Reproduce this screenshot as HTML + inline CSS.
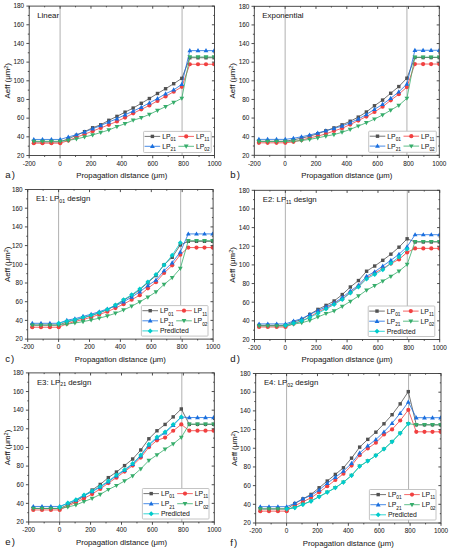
<!DOCTYPE html>
<html><head><meta charset="utf-8"><style>html,body{margin:0;padding:0;background:#fff;width:450px;height:550px;overflow:hidden}svg{display:block}text{stroke:#222;stroke-width:0.05px}</style></head><body>
<svg width="450" height="550" viewBox="0 0 450 550" font-family='"Liberation Sans", sans-serif' fill="#222">
<rect x="0" y="0" width="450" height="550" fill="#fff"/>
<line x1="60.08" y1="6.1" x2="60.08" y2="155.5" stroke="#a8a8a8" stroke-width="0.9"/>
<line x1="182.07" y1="6.1" x2="182.07" y2="155.5" stroke="#a8a8a8" stroke-width="0.9"/>
<clipPath id="cpa"><rect x="29.2" y="-3.9" width="185.3" height="159.4"/></clipPath><g clip-path="url(#cpa)">
<path d="M33.8 141.96 L42.5 141.96 L51.4 141.96 L60.2 141.96 L68.31 138.69 L76.41 135.33 L84.52 131.69 L92.63 127.77 L100.73 124.78 L108.84 120.3 L116.95 116.38 L125.06 112.17 L133.16 108.07 L141.27 103.3 L149.38 98.54 L157.48 93.5 L165.59 88.74 L173.7 83.69 L181.81 78.37 L189.8 57.74 L198 57.74 L206 57.74 L214.1 57.74" fill="none" stroke="#515151" stroke-width="0.8"/>
<rect x="32.1" y="140.26" width="3.4" height="3.4" fill="#515151"/>
<rect x="40.8" y="140.26" width="3.4" height="3.4" fill="#515151"/>
<rect x="49.7" y="140.26" width="3.4" height="3.4" fill="#515151"/>
<rect x="58.5" y="140.26" width="3.4" height="3.4" fill="#515151"/>
<rect x="66.61" y="136.99" width="3.4" height="3.4" fill="#515151"/>
<rect x="74.71" y="133.63" width="3.4" height="3.4" fill="#515151"/>
<rect x="82.82" y="129.99" width="3.4" height="3.4" fill="#515151"/>
<rect x="90.93" y="126.07" width="3.4" height="3.4" fill="#515151"/>
<rect x="99.03" y="123.08" width="3.4" height="3.4" fill="#515151"/>
<rect x="107.14" y="118.6" width="3.4" height="3.4" fill="#515151"/>
<rect x="115.25" y="114.68" width="3.4" height="3.4" fill="#515151"/>
<rect x="123.36" y="110.47" width="3.4" height="3.4" fill="#515151"/>
<rect x="131.46" y="106.37" width="3.4" height="3.4" fill="#515151"/>
<rect x="139.57" y="101.6" width="3.4" height="3.4" fill="#515151"/>
<rect x="147.68" y="96.84" width="3.4" height="3.4" fill="#515151"/>
<rect x="155.78" y="91.8" width="3.4" height="3.4" fill="#515151"/>
<rect x="163.89" y="87.04" width="3.4" height="3.4" fill="#515151"/>
<rect x="172" y="81.99" width="3.4" height="3.4" fill="#515151"/>
<rect x="180.11" y="76.67" width="3.4" height="3.4" fill="#515151"/>
<rect x="188.1" y="56.04" width="3.4" height="3.4" fill="#515151"/>
<rect x="196.3" y="56.04" width="3.4" height="3.4" fill="#515151"/>
<rect x="204.3" y="56.04" width="3.4" height="3.4" fill="#515151"/>
<rect x="212.4" y="56.04" width="3.4" height="3.4" fill="#515151"/>
<path d="M33.8 143.17 L42.5 143.17 L51.4 143.17 L60.2 143.17 L68.31 140.56 L76.41 137.29 L84.52 134.21 L92.63 131.13 L100.73 127.95 L108.84 124.78 L116.95 121.42 L125.06 117.59 L133.16 113.29 L141.27 109.37 L149.38 105.45 L157.48 100.88 L165.59 96.39 L173.7 91.72 L181.81 86.87 L189.8 64.27 L198 64.27 L206 64.27 L214.1 64.27" fill="none" stroke="#F14040" stroke-width="0.8"/>
<circle cx="33.8" cy="143.17" r="2.1" fill="#F14040"/>
<circle cx="42.5" cy="143.17" r="2.1" fill="#F14040"/>
<circle cx="51.4" cy="143.17" r="2.1" fill="#F14040"/>
<circle cx="60.2" cy="143.17" r="2.1" fill="#F14040"/>
<circle cx="68.31" cy="140.56" r="2.1" fill="#F14040"/>
<circle cx="76.41" cy="137.29" r="2.1" fill="#F14040"/>
<circle cx="84.52" cy="134.21" r="2.1" fill="#F14040"/>
<circle cx="92.63" cy="131.13" r="2.1" fill="#F14040"/>
<circle cx="100.73" cy="127.95" r="2.1" fill="#F14040"/>
<circle cx="108.84" cy="124.78" r="2.1" fill="#F14040"/>
<circle cx="116.95" cy="121.42" r="2.1" fill="#F14040"/>
<circle cx="125.06" cy="117.59" r="2.1" fill="#F14040"/>
<circle cx="133.16" cy="113.29" r="2.1" fill="#F14040"/>
<circle cx="141.27" cy="109.37" r="2.1" fill="#F14040"/>
<circle cx="149.38" cy="105.45" r="2.1" fill="#F14040"/>
<circle cx="157.48" cy="100.88" r="2.1" fill="#F14040"/>
<circle cx="165.59" cy="96.39" r="2.1" fill="#F14040"/>
<circle cx="173.7" cy="91.72" r="2.1" fill="#F14040"/>
<circle cx="181.81" cy="86.87" r="2.1" fill="#F14040"/>
<circle cx="189.8" cy="64.27" r="2.1" fill="#F14040"/>
<circle cx="198" cy="64.27" r="2.1" fill="#F14040"/>
<circle cx="206" cy="64.27" r="2.1" fill="#F14040"/>
<circle cx="214.1" cy="64.27" r="2.1" fill="#F14040"/>
<path d="M33.8 139.44 L42.5 139.44 L51.4 139.44 L60.2 139.44 L68.31 137.01 L76.41 134.68 L84.52 131.97 L92.63 128.79 L100.73 125.53 L108.84 121.98 L116.95 118.71 L125.06 114.79 L133.16 111.15 L141.27 107.23 L149.38 102.93 L157.48 98.54 L165.59 93.78 L173.7 89.86 L181.81 84.35 L189.8 50.64 L198 50.64 L206 50.64 L214.1 50.64" fill="none" stroke="#1A6FDF" stroke-width="0.8"/>
<path d="M33.8 136.92L36.2 141.12L31.4 141.12Z" fill="#1A6FDF"/>
<path d="M42.5 136.92L44.9 141.12L40.1 141.12Z" fill="#1A6FDF"/>
<path d="M51.4 136.92L53.8 141.12L49 141.12Z" fill="#1A6FDF"/>
<path d="M60.2 136.92L62.6 141.12L57.8 141.12Z" fill="#1A6FDF"/>
<path d="M68.31 134.49L70.71 138.69L65.91 138.69Z" fill="#1A6FDF"/>
<path d="M76.41 132.16L78.81 136.36L74.01 136.36Z" fill="#1A6FDF"/>
<path d="M84.52 129.45L86.92 133.65L82.12 133.65Z" fill="#1A6FDF"/>
<path d="M92.63 126.27L95.03 130.47L90.23 130.47Z" fill="#1A6FDF"/>
<path d="M100.73 123.01L103.14 127.21L98.33 127.21Z" fill="#1A6FDF"/>
<path d="M108.84 119.46L111.24 123.66L106.44 123.66Z" fill="#1A6FDF"/>
<path d="M116.95 116.19L119.35 120.39L114.55 120.39Z" fill="#1A6FDF"/>
<path d="M125.06 112.27L127.46 116.47L122.66 116.47Z" fill="#1A6FDF"/>
<path d="M133.16 108.63L135.56 112.83L130.76 112.83Z" fill="#1A6FDF"/>
<path d="M141.27 104.71L143.67 108.91L138.87 108.91Z" fill="#1A6FDF"/>
<path d="M149.38 100.41L151.78 104.61L146.98 104.61Z" fill="#1A6FDF"/>
<path d="M157.48 96.02L159.88 100.22L155.08 100.22Z" fill="#1A6FDF"/>
<path d="M165.59 91.26L167.99 95.46L163.19 95.46Z" fill="#1A6FDF"/>
<path d="M173.7 87.34L176.1 91.54L171.3 91.54Z" fill="#1A6FDF"/>
<path d="M181.81 81.83L184.21 86.03L179.41 86.03Z" fill="#1A6FDF"/>
<path d="M189.8 48.12L192.2 52.32L187.4 52.32Z" fill="#1A6FDF"/>
<path d="M198 48.12L200.4 52.32L195.6 52.32Z" fill="#1A6FDF"/>
<path d="M206 48.12L208.4 52.32L203.6 52.32Z" fill="#1A6FDF"/>
<path d="M214.1 48.12L216.5 52.32L211.7 52.32Z" fill="#1A6FDF"/>
<path d="M33.8 141.31 L42.5 141.31 L51.4 141.31 L60.2 141.31 L68.31 140.37 L76.41 138.97 L84.52 137.01 L92.63 134.96 L100.73 132.53 L108.84 130.01 L116.95 126.65 L125.06 123.66 L133.16 120.3 L141.27 117.78 L149.38 114.41 L157.48 110.49 L165.59 106.66 L173.7 102.46 L181.81 98.35 L189.8 56.99 L198 56.99 L206 56.99 L214.1 56.99" fill="none" stroke="#37AD6B" stroke-width="0.8"/>
<path d="M33.8 143.83L36.2 139.63L31.4 139.63Z" fill="#37AD6B"/>
<path d="M42.5 143.83L44.9 139.63L40.1 139.63Z" fill="#37AD6B"/>
<path d="M51.4 143.83L53.8 139.63L49 139.63Z" fill="#37AD6B"/>
<path d="M60.2 143.83L62.6 139.63L57.8 139.63Z" fill="#37AD6B"/>
<path d="M68.31 142.89L70.71 138.69L65.91 138.69Z" fill="#37AD6B"/>
<path d="M76.41 141.49L78.81 137.29L74.01 137.29Z" fill="#37AD6B"/>
<path d="M84.52 139.53L86.92 135.33L82.12 135.33Z" fill="#37AD6B"/>
<path d="M92.63 137.48L95.03 133.28L90.23 133.28Z" fill="#37AD6B"/>
<path d="M100.73 135.05L103.14 130.85L98.33 130.85Z" fill="#37AD6B"/>
<path d="M108.84 132.53L111.24 128.33L106.44 128.33Z" fill="#37AD6B"/>
<path d="M116.95 129.17L119.35 124.97L114.55 124.97Z" fill="#37AD6B"/>
<path d="M125.06 126.18L127.46 121.98L122.66 121.98Z" fill="#37AD6B"/>
<path d="M133.16 122.82L135.56 118.62L130.76 118.62Z" fill="#37AD6B"/>
<path d="M141.27 120.3L143.67 116.1L138.87 116.1Z" fill="#37AD6B"/>
<path d="M149.38 116.93L151.78 112.73L146.98 112.73Z" fill="#37AD6B"/>
<path d="M157.48 113.01L159.88 108.81L155.08 108.81Z" fill="#37AD6B"/>
<path d="M165.59 109.18L167.99 104.98L163.19 104.98Z" fill="#37AD6B"/>
<path d="M173.7 104.98L176.1 100.78L171.3 100.78Z" fill="#37AD6B"/>
<path d="M181.81 100.87L184.21 96.67L179.41 96.67Z" fill="#37AD6B"/>
<path d="M189.8 59.51L192.2 55.31L187.4 55.31Z" fill="#37AD6B"/>
<path d="M198 59.51L200.4 55.31L195.6 55.31Z" fill="#37AD6B"/>
<path d="M206 59.51L208.4 55.31L203.6 55.31Z" fill="#37AD6B"/>
<path d="M214.1 59.51L216.5 55.31L211.7 55.31Z" fill="#37AD6B"/>
</g>
<rect x="143.6" y="131.4" width="67.6" height="21.1" rx="0.8" fill="#fff" stroke="#bdbdbd" stroke-width="0.9"/>
<line x1="144.6" y1="136.4" x2="160.2" y2="136.4" stroke="#515151" stroke-width="0.8"/>
<rect x="150.7" y="134.7" width="3.4" height="3.4" fill="#515151"/>
<text x="162.2" y="138.8" font-size="6.8">LP<tspan font-size="4.8" dy="2.4">01</tspan></text>
<line x1="178.4" y1="136.4" x2="194" y2="136.4" stroke="#F14040" stroke-width="0.8"/>
<circle cx="186.2" cy="136.4" r="2.1" fill="#F14040"/>
<text x="196" y="138.8" font-size="6.8">LP<tspan font-size="4.8" dy="2.4">11</tspan></text>
<line x1="144.6" y1="146.3" x2="160.2" y2="146.3" stroke="#1A6FDF" stroke-width="0.8"/>
<path d="M152.4 143.78L154.8 147.98L150 147.98Z" fill="#1A6FDF"/>
<text x="162.2" y="148.7" font-size="6.8">LP<tspan font-size="4.8" dy="2.4">21</tspan></text>
<line x1="178.4" y1="146.3" x2="194" y2="146.3" stroke="#37AD6B" stroke-width="0.8"/>
<path d="M186.2 148.82L188.6 144.62L183.8 144.62Z" fill="#37AD6B"/>
<text x="196" y="148.7" font-size="6.8">LP<tspan font-size="4.8" dy="2.4">02</tspan></text>
<rect x="29.2" y="6.1" width="185.3" height="149.4" fill="none" stroke="#3a3a3a" stroke-width="0.9"/>
<text x="29.2" y="165.7" font-size="6.4" text-anchor="middle">-200</text>
<text x="60.08" y="165.7" font-size="6.4" text-anchor="middle">0</text>
<text x="90.97" y="165.7" font-size="6.4" text-anchor="middle">200</text>
<text x="121.85" y="165.7" font-size="6.4" text-anchor="middle">400</text>
<text x="152.73" y="165.7" font-size="6.4" text-anchor="middle">600</text>
<text x="183.62" y="165.7" font-size="6.4" text-anchor="middle">800</text>
<text x="214.5" y="165.7" font-size="6.4" text-anchor="middle">1000</text>
<text x="24.2" y="157.8" font-size="6.4" text-anchor="end">20</text>
<text x="24.2" y="139.12" font-size="6.4" text-anchor="end">40</text>
<text x="24.2" y="120.45" font-size="6.4" text-anchor="end">60</text>
<text x="24.2" y="101.77" font-size="6.4" text-anchor="end">80</text>
<text x="24.2" y="83.1" font-size="6.4" text-anchor="end">100</text>
<text x="24.2" y="64.42" font-size="6.4" text-anchor="end">120</text>
<text x="24.2" y="45.75" font-size="6.4" text-anchor="end">140</text>
<text x="24.2" y="27.08" font-size="6.4" text-anchor="end">160</text>
<text x="24.2" y="8.4" font-size="6.4" text-anchor="end">180</text>
<path d="M29.2 155.5V158.3M29.2 6.1V8.7M44.64 155.5V156.9M44.64 6.1V7.3M60.08 155.5V158.3M60.08 6.1V8.7M75.53 155.5V156.9M75.53 6.1V7.3M90.97 155.5V158.3M90.97 6.1V8.7M106.41 155.5V156.9M106.41 6.1V7.3M121.85 155.5V158.3M121.85 6.1V8.7M137.29 155.5V156.9M137.29 6.1V7.3M152.73 155.5V158.3M152.73 6.1V8.7M168.18 155.5V156.9M168.18 6.1V7.3M183.62 155.5V158.3M183.62 6.1V8.7M199.06 155.5V156.9M199.06 6.1V7.3M214.5 155.5V158.3M214.5 6.1V8.7M29.2 155.5H26.4M214.5 155.5H211.9M29.2 146.16H27.8M214.5 146.16H213.3M29.2 136.82H26.4M214.5 136.82H211.9M29.2 127.49H27.8M214.5 127.49H213.3M29.2 118.15H26.4M214.5 118.15H211.9M29.2 108.81H27.8M214.5 108.81H213.3M29.2 99.47H26.4M214.5 99.47H211.9M29.2 90.14H27.8M214.5 90.14H213.3M29.2 80.8H26.4M214.5 80.8H211.9M29.2 71.46H27.8M214.5 71.46H213.3M29.2 62.12H26.4M214.5 62.12H211.9M29.2 52.79H27.8M214.5 52.79H213.3M29.2 43.45H26.4M214.5 43.45H211.9M29.2 34.11H27.8M214.5 34.11H213.3M29.2 24.78H26.4M214.5 24.78H211.9M29.2 15.44H27.8M214.5 15.44H213.3M29.2 6.1H26.4M214.5 6.1H211.9" stroke="#3a3a3a" stroke-width="0.9" fill="none"/>
<text x="37.2" y="18" font-size="7.9">Linear</text>
<text x="121.85" y="178" font-size="7.75" text-anchor="middle">Propagation distance (μm)</text>
<text transform="translate(9.8 80.8) rotate(-90)" font-size="7.9" text-anchor="middle">Aeff (μm<tspan font-size="5.5" dy="-2">2</tspan><tspan dy="2">)</tspan></text>
<text x="5.2" y="178.1" font-size="9.6">a<tspan dx="1.1">)</tspan></text>
<line x1="285.13" y1="6.3" x2="285.13" y2="155.3" stroke="#a8a8a8" stroke-width="0.9"/>
<line x1="406.93" y1="6.3" x2="406.93" y2="155.3" stroke="#a8a8a8" stroke-width="0.9"/>
<clipPath id="cpb"><rect x="254.3" y="-3.7" width="185" height="159"/></clipPath><g clip-path="url(#cpb)">
<path d="M258.9 141.24 L267.6 141.24 L276.5 141.24 L285.3 141.24 L293.41 139.84 L301.51 138.17 L309.62 136.21 L317.73 133.69 L325.84 130.81 L333.94 127.92 L342.05 124.85 L350.16 121.22 L358.26 117.12 L366.37 112 L374.48 105.76 L382.58 100.08 L390.69 93.28 L398.8 86.57 L406.9 78.19 L414.9 57.52 L423.1 57.52 L431.1 57.52 L439.2 57.52" fill="none" stroke="#515151" stroke-width="0.8"/>
<rect x="257.2" y="139.54" width="3.4" height="3.4" fill="#515151"/>
<rect x="265.9" y="139.54" width="3.4" height="3.4" fill="#515151"/>
<rect x="274.8" y="139.54" width="3.4" height="3.4" fill="#515151"/>
<rect x="283.6" y="139.54" width="3.4" height="3.4" fill="#515151"/>
<rect x="291.71" y="138.14" width="3.4" height="3.4" fill="#515151"/>
<rect x="299.81" y="136.47" width="3.4" height="3.4" fill="#515151"/>
<rect x="307.92" y="134.51" width="3.4" height="3.4" fill="#515151"/>
<rect x="316.03" y="132" width="3.4" height="3.4" fill="#515151"/>
<rect x="324.14" y="129.11" width="3.4" height="3.4" fill="#515151"/>
<rect x="332.24" y="126.22" width="3.4" height="3.4" fill="#515151"/>
<rect x="340.35" y="123.15" width="3.4" height="3.4" fill="#515151"/>
<rect x="348.46" y="119.52" width="3.4" height="3.4" fill="#515151"/>
<rect x="356.56" y="115.42" width="3.4" height="3.4" fill="#515151"/>
<rect x="364.67" y="110.3" width="3.4" height="3.4" fill="#515151"/>
<rect x="372.78" y="104.06" width="3.4" height="3.4" fill="#515151"/>
<rect x="380.88" y="98.38" width="3.4" height="3.4" fill="#515151"/>
<rect x="388.99" y="91.58" width="3.4" height="3.4" fill="#515151"/>
<rect x="397.1" y="84.87" width="3.4" height="3.4" fill="#515151"/>
<rect x="405.2" y="76.49" width="3.4" height="3.4" fill="#515151"/>
<rect x="413.2" y="55.82" width="3.4" height="3.4" fill="#515151"/>
<rect x="421.4" y="55.82" width="3.4" height="3.4" fill="#515151"/>
<rect x="429.4" y="55.82" width="3.4" height="3.4" fill="#515151"/>
<rect x="437.5" y="55.82" width="3.4" height="3.4" fill="#515151"/>
<path d="M258.9 142.82 L267.6 142.82 L276.5 142.82 L285.3 142.82 L293.41 141.8 L301.51 140.12 L309.62 137.89 L317.73 136.12 L325.84 133.88 L333.94 130.99 L342.05 128.29 L350.16 124.57 L358.26 120.56 L366.37 116.56 L374.48 112 L382.58 106.69 L390.69 100.36 L398.8 94.21 L406.9 87.04 L414.9 64.04 L423.1 64.04 L431.1 64.04 L439.2 64.04" fill="none" stroke="#F14040" stroke-width="0.8"/>
<circle cx="258.9" cy="142.82" r="2.1" fill="#F14040"/>
<circle cx="267.6" cy="142.82" r="2.1" fill="#F14040"/>
<circle cx="276.5" cy="142.82" r="2.1" fill="#F14040"/>
<circle cx="285.3" cy="142.82" r="2.1" fill="#F14040"/>
<circle cx="293.41" cy="141.8" r="2.1" fill="#F14040"/>
<circle cx="301.51" cy="140.12" r="2.1" fill="#F14040"/>
<circle cx="309.62" cy="137.89" r="2.1" fill="#F14040"/>
<circle cx="317.73" cy="136.12" r="2.1" fill="#F14040"/>
<circle cx="325.84" cy="133.88" r="2.1" fill="#F14040"/>
<circle cx="333.94" cy="130.99" r="2.1" fill="#F14040"/>
<circle cx="342.05" cy="128.29" r="2.1" fill="#F14040"/>
<circle cx="350.16" cy="124.57" r="2.1" fill="#F14040"/>
<circle cx="358.26" cy="120.56" r="2.1" fill="#F14040"/>
<circle cx="366.37" cy="116.56" r="2.1" fill="#F14040"/>
<circle cx="374.48" cy="112" r="2.1" fill="#F14040"/>
<circle cx="382.58" cy="106.69" r="2.1" fill="#F14040"/>
<circle cx="390.69" cy="100.36" r="2.1" fill="#F14040"/>
<circle cx="398.8" cy="94.21" r="2.1" fill="#F14040"/>
<circle cx="406.9" cy="87.04" r="2.1" fill="#F14040"/>
<circle cx="414.9" cy="64.04" r="2.1" fill="#F14040"/>
<circle cx="423.1" cy="64.04" r="2.1" fill="#F14040"/>
<circle cx="431.1" cy="64.04" r="2.1" fill="#F14040"/>
<circle cx="439.2" cy="64.04" r="2.1" fill="#F14040"/>
<path d="M258.9 139.38 L267.6 139.38 L276.5 139.38 L285.3 139.38 L293.41 138.26 L301.51 136.77 L309.62 135 L317.73 132.95 L325.84 130.81 L333.94 128.48 L342.05 125.97 L350.16 122.8 L358.26 119.07 L366.37 114.51 L374.48 109.3 L382.58 104.36 L390.69 98.31 L398.8 91.88 L406.9 84.06 L414.9 50.25 L423.1 50.25 L431.1 50.25 L439.2 50.25" fill="none" stroke="#1A6FDF" stroke-width="0.8"/>
<path d="M258.9 136.86L261.3 141.06L256.5 141.06Z" fill="#1A6FDF"/>
<path d="M267.6 136.86L270 141.06L265.2 141.06Z" fill="#1A6FDF"/>
<path d="M276.5 136.86L278.9 141.06L274.1 141.06Z" fill="#1A6FDF"/>
<path d="M285.3 136.86L287.7 141.06L282.9 141.06Z" fill="#1A6FDF"/>
<path d="M293.41 135.74L295.81 139.94L291.01 139.94Z" fill="#1A6FDF"/>
<path d="M301.51 134.25L303.91 138.45L299.11 138.45Z" fill="#1A6FDF"/>
<path d="M309.62 132.48L312.02 136.68L307.22 136.68Z" fill="#1A6FDF"/>
<path d="M317.73 130.43L320.13 134.63L315.33 134.63Z" fill="#1A6FDF"/>
<path d="M325.84 128.29L328.24 132.49L323.44 132.49Z" fill="#1A6FDF"/>
<path d="M333.94 125.96L336.34 130.16L331.54 130.16Z" fill="#1A6FDF"/>
<path d="M342.05 123.45L344.45 127.65L339.65 127.65Z" fill="#1A6FDF"/>
<path d="M350.16 120.28L352.56 124.48L347.76 124.48Z" fill="#1A6FDF"/>
<path d="M358.26 116.55L360.66 120.75L355.86 120.75Z" fill="#1A6FDF"/>
<path d="M366.37 111.99L368.77 116.19L363.97 116.19Z" fill="#1A6FDF"/>
<path d="M374.48 106.78L376.88 110.98L372.08 110.98Z" fill="#1A6FDF"/>
<path d="M382.58 101.84L384.98 106.04L380.18 106.04Z" fill="#1A6FDF"/>
<path d="M390.69 95.79L393.09 99.99L388.29 99.99Z" fill="#1A6FDF"/>
<path d="M398.8 89.36L401.2 93.56L396.4 93.56Z" fill="#1A6FDF"/>
<path d="M406.9 81.54L409.3 85.74L404.5 85.74Z" fill="#1A6FDF"/>
<path d="M414.9 47.73L417.3 51.93L412.5 51.93Z" fill="#1A6FDF"/>
<path d="M423.1 47.73L425.5 51.93L420.7 51.93Z" fill="#1A6FDF"/>
<path d="M431.1 47.73L433.5 51.93L428.7 51.93Z" fill="#1A6FDF"/>
<path d="M439.2 47.73L441.6 51.93L436.8 51.93Z" fill="#1A6FDF"/>
<path d="M258.9 141.52 L267.6 141.52 L276.5 141.52 L285.3 141.52 L293.41 141.24 L301.51 140.59 L309.62 139.38 L317.73 137.89 L325.84 136.12 L333.94 134.63 L342.05 132.3 L350.16 129.41 L358.26 126.06 L366.37 122.8 L374.48 119.07 L382.58 114.98 L390.69 110.23 L398.8 105.39 L406.9 98.31 L414.9 57.15 L423.1 57.15 L431.1 57.15 L439.2 57.15" fill="none" stroke="#37AD6B" stroke-width="0.8"/>
<path d="M258.9 144.04L261.3 139.84L256.5 139.84Z" fill="#37AD6B"/>
<path d="M267.6 144.04L270 139.84L265.2 139.84Z" fill="#37AD6B"/>
<path d="M276.5 144.04L278.9 139.84L274.1 139.84Z" fill="#37AD6B"/>
<path d="M285.3 144.04L287.7 139.84L282.9 139.84Z" fill="#37AD6B"/>
<path d="M293.41 143.76L295.81 139.56L291.01 139.56Z" fill="#37AD6B"/>
<path d="M301.51 143.11L303.91 138.91L299.11 138.91Z" fill="#37AD6B"/>
<path d="M309.62 141.9L312.02 137.7L307.22 137.7Z" fill="#37AD6B"/>
<path d="M317.73 140.41L320.13 136.21L315.33 136.21Z" fill="#37AD6B"/>
<path d="M325.84 138.64L328.24 134.44L323.44 134.44Z" fill="#37AD6B"/>
<path d="M333.94 137.15L336.34 132.95L331.54 132.95Z" fill="#37AD6B"/>
<path d="M342.05 134.82L344.45 130.62L339.65 130.62Z" fill="#37AD6B"/>
<path d="M350.16 131.93L352.56 127.73L347.76 127.73Z" fill="#37AD6B"/>
<path d="M358.26 128.58L360.66 124.38L355.86 124.38Z" fill="#37AD6B"/>
<path d="M366.37 125.32L368.77 121.12L363.97 121.12Z" fill="#37AD6B"/>
<path d="M374.48 121.59L376.88 117.39L372.08 117.39Z" fill="#37AD6B"/>
<path d="M382.58 117.5L384.98 113.3L380.18 113.3Z" fill="#37AD6B"/>
<path d="M390.69 112.75L393.09 108.55L388.29 108.55Z" fill="#37AD6B"/>
<path d="M398.8 107.91L401.2 103.71L396.4 103.71Z" fill="#37AD6B"/>
<path d="M406.9 100.83L409.3 96.63L404.5 96.63Z" fill="#37AD6B"/>
<path d="M414.9 59.67L417.3 55.47L412.5 55.47Z" fill="#37AD6B"/>
<path d="M423.1 59.67L425.5 55.47L420.7 55.47Z" fill="#37AD6B"/>
<path d="M431.1 59.67L433.5 55.47L428.7 55.47Z" fill="#37AD6B"/>
<path d="M439.2 59.67L441.6 55.47L436.8 55.47Z" fill="#37AD6B"/>
</g>
<rect x="368.7" y="131.2" width="67.6" height="21.1" rx="0.8" fill="#fff" stroke="#bdbdbd" stroke-width="0.9"/>
<line x1="369.7" y1="136.2" x2="385.3" y2="136.2" stroke="#515151" stroke-width="0.8"/>
<rect x="375.8" y="134.5" width="3.4" height="3.4" fill="#515151"/>
<text x="387.3" y="138.6" font-size="6.8">LP<tspan font-size="4.8" dy="2.4">01</tspan></text>
<line x1="403.5" y1="136.2" x2="419.1" y2="136.2" stroke="#F14040" stroke-width="0.8"/>
<circle cx="411.3" cy="136.2" r="2.1" fill="#F14040"/>
<text x="421.1" y="138.6" font-size="6.8">LP<tspan font-size="4.8" dy="2.4">11</tspan></text>
<line x1="369.7" y1="146.1" x2="385.3" y2="146.1" stroke="#1A6FDF" stroke-width="0.8"/>
<path d="M377.5 143.58L379.9 147.78L375.1 147.78Z" fill="#1A6FDF"/>
<text x="387.3" y="148.5" font-size="6.8">LP<tspan font-size="4.8" dy="2.4">21</tspan></text>
<line x1="403.5" y1="146.1" x2="419.1" y2="146.1" stroke="#37AD6B" stroke-width="0.8"/>
<path d="M411.3 148.62L413.7 144.42L408.9 144.42Z" fill="#37AD6B"/>
<text x="421.1" y="148.5" font-size="6.8">LP<tspan font-size="4.8" dy="2.4">02</tspan></text>
<rect x="254.3" y="6.3" width="185" height="149" fill="none" stroke="#3a3a3a" stroke-width="0.9"/>
<text x="254.3" y="165.5" font-size="6.4" text-anchor="middle">-200</text>
<text x="285.13" y="165.5" font-size="6.4" text-anchor="middle">0</text>
<text x="315.97" y="165.5" font-size="6.4" text-anchor="middle">200</text>
<text x="346.8" y="165.5" font-size="6.4" text-anchor="middle">400</text>
<text x="377.63" y="165.5" font-size="6.4" text-anchor="middle">600</text>
<text x="408.47" y="165.5" font-size="6.4" text-anchor="middle">800</text>
<text x="439.3" y="165.5" font-size="6.4" text-anchor="middle">1000</text>
<text x="249.3" y="157.6" font-size="6.4" text-anchor="end">20</text>
<text x="249.3" y="138.98" font-size="6.4" text-anchor="end">40</text>
<text x="249.3" y="120.35" font-size="6.4" text-anchor="end">60</text>
<text x="249.3" y="101.73" font-size="6.4" text-anchor="end">80</text>
<text x="249.3" y="83.1" font-size="6.4" text-anchor="end">100</text>
<text x="249.3" y="64.48" font-size="6.4" text-anchor="end">120</text>
<text x="249.3" y="45.85" font-size="6.4" text-anchor="end">140</text>
<text x="249.3" y="27.23" font-size="6.4" text-anchor="end">160</text>
<text x="249.3" y="8.6" font-size="6.4" text-anchor="end">180</text>
<path d="M254.3 155.3V158.1M254.3 6.3V8.9M269.72 155.3V156.7M269.72 6.3V7.5M285.13 155.3V158.1M285.13 6.3V8.9M300.55 155.3V156.7M300.55 6.3V7.5M315.97 155.3V158.1M315.97 6.3V8.9M331.38 155.3V156.7M331.38 6.3V7.5M346.8 155.3V158.1M346.8 6.3V8.9M362.22 155.3V156.7M362.22 6.3V7.5M377.63 155.3V158.1M377.63 6.3V8.9M393.05 155.3V156.7M393.05 6.3V7.5M408.47 155.3V158.1M408.47 6.3V8.9M423.88 155.3V156.7M423.88 6.3V7.5M439.3 155.3V158.1M439.3 6.3V8.9M254.3 155.3H251.5M439.3 155.3H436.7M254.3 145.99H252.9M439.3 145.99H438.1M254.3 136.68H251.5M439.3 136.68H436.7M254.3 127.36H252.9M439.3 127.36H438.1M254.3 118.05H251.5M439.3 118.05H436.7M254.3 108.74H252.9M439.3 108.74H438.1M254.3 99.43H251.5M439.3 99.43H436.7M254.3 90.11H252.9M439.3 90.11H438.1M254.3 80.8H251.5M439.3 80.8H436.7M254.3 71.49H252.9M439.3 71.49H438.1M254.3 62.18H251.5M439.3 62.18H436.7M254.3 52.86H252.9M439.3 52.86H438.1M254.3 43.55H251.5M439.3 43.55H436.7M254.3 34.24H252.9M439.3 34.24H438.1M254.3 24.93H251.5M439.3 24.93H436.7M254.3 15.61H252.9M439.3 15.61H438.1M254.3 6.3H251.5M439.3 6.3H436.7" stroke="#3a3a3a" stroke-width="0.9" fill="none"/>
<text x="262.3" y="18.2" font-size="7.9">Exponential</text>
<text x="346.8" y="177.8" font-size="7.75" text-anchor="middle">Propagation distance (μm)</text>
<text transform="translate(235.1 80.8) rotate(-90)" font-size="7.9" text-anchor="middle">Aeff (μm<tspan font-size="5.5" dy="-2">2</tspan><tspan dy="2">)</tspan></text>
<text x="230.2" y="177.9" font-size="9.6">b<tspan dx="1.1">)</tspan></text>
<line x1="58.6" y1="189.5" x2="58.6" y2="339.1" stroke="#a8a8a8" stroke-width="0.9"/>
<line x1="180.65" y1="189.5" x2="180.65" y2="339.1" stroke="#a8a8a8" stroke-width="0.9"/>
<clipPath id="cpc"><rect x="27.7" y="179.5" width="185.4" height="159.6"/></clipPath><g clip-path="url(#cpc)">
<path d="M32.3 325.08 L41 325.08 L49.9 325.08 L58.7 325.08 L66.81 321.99 L74.91 320.12 L83.02 317.88 L91.13 315.54 L99.23 312.92 L107.34 309.74 L115.45 305.44 L123.56 300.3 L131.66 295.44 L139.77 289.73 L147.88 282.53 L155.98 275.52 L164.09 264.77 L172.2 257.29 L180.31 244.95 L188.3 241.3 L196.5 241.3 L204.5 241.3 L212.6 241.3" fill="none" stroke="#515151" stroke-width="0.8"/>
<rect x="30.6" y="323.38" width="3.4" height="3.4" fill="#515151"/>
<rect x="39.3" y="323.38" width="3.4" height="3.4" fill="#515151"/>
<rect x="48.2" y="323.38" width="3.4" height="3.4" fill="#515151"/>
<rect x="57" y="323.38" width="3.4" height="3.4" fill="#515151"/>
<rect x="65.11" y="320.29" width="3.4" height="3.4" fill="#515151"/>
<rect x="73.21" y="318.42" width="3.4" height="3.4" fill="#515151"/>
<rect x="81.32" y="316.18" width="3.4" height="3.4" fill="#515151"/>
<rect x="89.43" y="313.84" width="3.4" height="3.4" fill="#515151"/>
<rect x="97.53" y="311.22" width="3.4" height="3.4" fill="#515151"/>
<rect x="105.64" y="308.04" width="3.4" height="3.4" fill="#515151"/>
<rect x="113.75" y="303.74" width="3.4" height="3.4" fill="#515151"/>
<rect x="121.86" y="298.6" width="3.4" height="3.4" fill="#515151"/>
<rect x="129.96" y="293.74" width="3.4" height="3.4" fill="#515151"/>
<rect x="138.07" y="288.03" width="3.4" height="3.4" fill="#515151"/>
<rect x="146.18" y="280.83" width="3.4" height="3.4" fill="#515151"/>
<rect x="154.28" y="273.82" width="3.4" height="3.4" fill="#515151"/>
<rect x="162.39" y="263.07" width="3.4" height="3.4" fill="#515151"/>
<rect x="170.5" y="255.59" width="3.4" height="3.4" fill="#515151"/>
<rect x="178.61" y="243.25" width="3.4" height="3.4" fill="#515151"/>
<rect x="186.6" y="239.6" width="3.4" height="3.4" fill="#515151"/>
<rect x="194.8" y="239.6" width="3.4" height="3.4" fill="#515151"/>
<rect x="202.8" y="239.6" width="3.4" height="3.4" fill="#515151"/>
<rect x="210.9" y="239.6" width="3.4" height="3.4" fill="#515151"/>
<path d="M32.3 327.23 L41 327.23 L49.9 327.23 L58.7 327.23 L66.81 323.86 L74.91 321.52 L83.02 319.47 L91.13 317.22 L99.23 314.42 L107.34 311.7 L115.45 308.06 L123.56 304.13 L131.66 299.74 L139.77 295.16 L147.88 288.33 L155.98 282.16 L164.09 273 L172.2 265.33 L180.31 254.67 L188.3 247.56 L196.5 247.56 L204.5 247.56 L212.6 247.56" fill="none" stroke="#F14040" stroke-width="0.8"/>
<circle cx="32.3" cy="327.23" r="2.1" fill="#F14040"/>
<circle cx="41" cy="327.23" r="2.1" fill="#F14040"/>
<circle cx="49.9" cy="327.23" r="2.1" fill="#F14040"/>
<circle cx="58.7" cy="327.23" r="2.1" fill="#F14040"/>
<circle cx="66.81" cy="323.86" r="2.1" fill="#F14040"/>
<circle cx="74.91" cy="321.52" r="2.1" fill="#F14040"/>
<circle cx="83.02" cy="319.47" r="2.1" fill="#F14040"/>
<circle cx="91.13" cy="317.22" r="2.1" fill="#F14040"/>
<circle cx="99.23" cy="314.42" r="2.1" fill="#F14040"/>
<circle cx="107.34" cy="311.7" r="2.1" fill="#F14040"/>
<circle cx="115.45" cy="308.06" r="2.1" fill="#F14040"/>
<circle cx="123.56" cy="304.13" r="2.1" fill="#F14040"/>
<circle cx="131.66" cy="299.74" r="2.1" fill="#F14040"/>
<circle cx="139.77" cy="295.16" r="2.1" fill="#F14040"/>
<circle cx="147.88" cy="288.33" r="2.1" fill="#F14040"/>
<circle cx="155.98" cy="282.16" r="2.1" fill="#F14040"/>
<circle cx="164.09" cy="273" r="2.1" fill="#F14040"/>
<circle cx="172.2" cy="265.33" r="2.1" fill="#F14040"/>
<circle cx="180.31" cy="254.67" r="2.1" fill="#F14040"/>
<circle cx="188.3" cy="247.56" r="2.1" fill="#F14040"/>
<circle cx="196.5" cy="247.56" r="2.1" fill="#F14040"/>
<circle cx="204.5" cy="247.56" r="2.1" fill="#F14040"/>
<circle cx="212.6" cy="247.56" r="2.1" fill="#F14040"/>
<path d="M32.3 323.3 L41 323.3 L49.9 323.3 L58.7 323.3 L66.81 320.21 L74.91 318.72 L83.02 316.38 L91.13 314.23 L99.23 311.7 L107.34 308.9 L115.45 305.91 L123.56 301.89 L131.66 297.03 L139.77 291.88 L147.88 285.52 L155.98 280.1 L164.09 270.66 L172.2 262.71 L180.31 251.96 L188.3 233.91 L196.5 233.91 L204.5 233.91 L212.6 233.91" fill="none" stroke="#1A6FDF" stroke-width="0.8"/>
<path d="M32.3 320.78L34.7 324.98L29.9 324.98Z" fill="#1A6FDF"/>
<path d="M41 320.78L43.4 324.98L38.6 324.98Z" fill="#1A6FDF"/>
<path d="M49.9 320.78L52.3 324.98L47.5 324.98Z" fill="#1A6FDF"/>
<path d="M58.7 320.78L61.1 324.98L56.3 324.98Z" fill="#1A6FDF"/>
<path d="M66.81 317.69L69.21 321.89L64.41 321.89Z" fill="#1A6FDF"/>
<path d="M74.91 316.2L77.31 320.4L72.51 320.4Z" fill="#1A6FDF"/>
<path d="M83.02 313.86L85.42 318.06L80.62 318.06Z" fill="#1A6FDF"/>
<path d="M91.13 311.71L93.53 315.91L88.73 315.91Z" fill="#1A6FDF"/>
<path d="M99.23 309.18L101.64 313.38L96.83 313.38Z" fill="#1A6FDF"/>
<path d="M107.34 306.38L109.74 310.58L104.94 310.58Z" fill="#1A6FDF"/>
<path d="M115.45 303.39L117.85 307.59L113.05 307.59Z" fill="#1A6FDF"/>
<path d="M123.56 299.37L125.96 303.57L121.16 303.57Z" fill="#1A6FDF"/>
<path d="M131.66 294.51L134.06 298.71L129.26 298.71Z" fill="#1A6FDF"/>
<path d="M139.77 289.36L142.17 293.56L137.37 293.56Z" fill="#1A6FDF"/>
<path d="M147.88 283L150.28 287.2L145.48 287.2Z" fill="#1A6FDF"/>
<path d="M155.98 277.58L158.38 281.78L153.58 281.78Z" fill="#1A6FDF"/>
<path d="M164.09 268.14L166.49 272.34L161.69 272.34Z" fill="#1A6FDF"/>
<path d="M172.2 260.19L174.6 264.39L169.8 264.39Z" fill="#1A6FDF"/>
<path d="M180.31 249.44L182.71 253.64L177.91 253.64Z" fill="#1A6FDF"/>
<path d="M188.3 231.39L190.7 235.59L185.9 235.59Z" fill="#1A6FDF"/>
<path d="M196.5 231.39L198.9 235.59L194.1 235.59Z" fill="#1A6FDF"/>
<path d="M204.5 231.39L206.9 235.59L202.1 235.59Z" fill="#1A6FDF"/>
<path d="M212.6 231.39L215 235.59L210.2 235.59Z" fill="#1A6FDF"/>
<path d="M32.3 325.08 L41 325.08 L49.9 325.08 L58.7 325.08 L66.81 324.14 L74.91 323.02 L83.02 321.62 L91.13 320.03 L99.23 318.16 L107.34 316.01 L115.45 313.29 L123.56 310.02 L131.66 306.19 L139.77 301.89 L147.88 297.12 L155.98 291.98 L164.09 284.4 L172.2 277.76 L180.31 268.41 L188.3 240.74 L196.5 240.74 L204.5 240.74 L212.6 240.74" fill="none" stroke="#37AD6B" stroke-width="0.8"/>
<path d="M32.3 327.6L34.7 323.4L29.9 323.4Z" fill="#37AD6B"/>
<path d="M41 327.6L43.4 323.4L38.6 323.4Z" fill="#37AD6B"/>
<path d="M49.9 327.6L52.3 323.4L47.5 323.4Z" fill="#37AD6B"/>
<path d="M58.7 327.6L61.1 323.4L56.3 323.4Z" fill="#37AD6B"/>
<path d="M66.81 326.66L69.21 322.46L64.41 322.46Z" fill="#37AD6B"/>
<path d="M74.91 325.54L77.31 321.34L72.51 321.34Z" fill="#37AD6B"/>
<path d="M83.02 324.14L85.42 319.94L80.62 319.94Z" fill="#37AD6B"/>
<path d="M91.13 322.55L93.53 318.35L88.73 318.35Z" fill="#37AD6B"/>
<path d="M99.23 320.68L101.64 316.48L96.83 316.48Z" fill="#37AD6B"/>
<path d="M107.34 318.53L109.74 314.33L104.94 314.33Z" fill="#37AD6B"/>
<path d="M115.45 315.81L117.85 311.61L113.05 311.61Z" fill="#37AD6B"/>
<path d="M123.56 312.54L125.96 308.34L121.16 308.34Z" fill="#37AD6B"/>
<path d="M131.66 308.71L134.06 304.51L129.26 304.51Z" fill="#37AD6B"/>
<path d="M139.77 304.41L142.17 300.21L137.37 300.21Z" fill="#37AD6B"/>
<path d="M147.88 299.64L150.28 295.44L145.48 295.44Z" fill="#37AD6B"/>
<path d="M155.98 294.5L158.38 290.3L153.58 290.3Z" fill="#37AD6B"/>
<path d="M164.09 286.92L166.49 282.72L161.69 282.72Z" fill="#37AD6B"/>
<path d="M172.2 280.28L174.6 276.08L169.8 276.08Z" fill="#37AD6B"/>
<path d="M180.31 270.93L182.71 266.73L177.91 266.73Z" fill="#37AD6B"/>
<path d="M188.3 243.26L190.7 239.06L185.9 239.06Z" fill="#37AD6B"/>
<path d="M196.5 243.26L198.9 239.06L194.1 239.06Z" fill="#37AD6B"/>
<path d="M204.5 243.26L206.9 239.06L202.1 239.06Z" fill="#37AD6B"/>
<path d="M212.6 243.26L215 239.06L210.2 239.06Z" fill="#37AD6B"/>
<path d="M58.7 323.3 L66.81 321.15 L74.91 319.84 L83.02 317.6 L91.13 315.35 L99.23 312.73 L107.34 309.46 L115.45 304.97 L123.56 299.74 L131.66 294.78 L139.77 288.89 L147.88 281.88 L155.98 274.59 L164.09 265.05 L172.2 255.23 L180.31 242.8" fill="none" stroke="#00CBCC" stroke-width="0.8"/>
<path d="M58.7 320.8L61.2 323.3L58.7 325.8L56.2 323.3Z" fill="#00CBCC"/>
<path d="M66.81 318.65L69.31 321.15L66.81 323.65L64.31 321.15Z" fill="#00CBCC"/>
<path d="M74.91 317.34L77.41 319.84L74.91 322.34L72.41 319.84Z" fill="#00CBCC"/>
<path d="M83.02 315.1L85.52 317.6L83.02 320.1L80.52 317.6Z" fill="#00CBCC"/>
<path d="M91.13 312.85L93.63 315.35L91.13 317.85L88.63 315.35Z" fill="#00CBCC"/>
<path d="M99.23 310.23L101.73 312.73L99.23 315.23L96.73 312.73Z" fill="#00CBCC"/>
<path d="M107.34 306.96L109.84 309.46L107.34 311.96L104.84 309.46Z" fill="#00CBCC"/>
<path d="M115.45 302.47L117.95 304.97L115.45 307.47L112.95 304.97Z" fill="#00CBCC"/>
<path d="M123.56 297.24L126.06 299.74L123.56 302.24L121.06 299.74Z" fill="#00CBCC"/>
<path d="M131.66 292.28L134.16 294.78L131.66 297.28L129.16 294.78Z" fill="#00CBCC"/>
<path d="M139.77 286.39L142.27 288.89L139.77 291.39L137.27 288.89Z" fill="#00CBCC"/>
<path d="M147.88 279.38L150.38 281.88L147.88 284.38L145.38 281.88Z" fill="#00CBCC"/>
<path d="M155.98 272.09L158.48 274.59L155.98 277.09L153.48 274.59Z" fill="#00CBCC"/>
<path d="M164.09 262.55L166.59 265.05L164.09 267.55L161.59 265.05Z" fill="#00CBCC"/>
<path d="M172.2 252.73L174.7 255.23L172.2 257.73L169.7 255.23Z" fill="#00CBCC"/>
<path d="M180.31 240.3L182.81 242.8L180.31 245.3L177.81 242.8Z" fill="#00CBCC"/>
</g>
<rect x="141.4" y="305.6" width="66.6" height="30.5" rx="0.8" fill="#fff" stroke="#bdbdbd" stroke-width="0.9"/>
<line x1="142.4" y1="310.7" x2="158" y2="310.7" stroke="#515151" stroke-width="0.8"/>
<rect x="148.5" y="309" width="3.4" height="3.4" fill="#515151"/>
<text x="160" y="313.1" font-size="6.8">LP<tspan font-size="4.8" dy="2.4">01</tspan></text>
<line x1="176.2" y1="310.7" x2="191.8" y2="310.7" stroke="#F14040" stroke-width="0.8"/>
<circle cx="184" cy="310.7" r="2.1" fill="#F14040"/>
<text x="193.8" y="313.1" font-size="6.8">LP<tspan font-size="4.8" dy="2.4">11</tspan></text>
<line x1="142.4" y1="320.8" x2="158" y2="320.8" stroke="#1A6FDF" stroke-width="0.8"/>
<path d="M150.2 318.28L152.6 322.48L147.8 322.48Z" fill="#1A6FDF"/>
<text x="160" y="323.2" font-size="6.8">LP<tspan font-size="4.8" dy="2.4">21</tspan></text>
<line x1="176.2" y1="320.8" x2="191.8" y2="320.8" stroke="#37AD6B" stroke-width="0.8"/>
<path d="M184 323.32L186.4 319.12L181.6 319.12Z" fill="#37AD6B"/>
<text x="193.8" y="323.2" font-size="6.8">LP<tspan font-size="4.8" dy="2.4">02</tspan></text>
<line x1="142.4" y1="330.9" x2="158" y2="330.9" stroke="#00CBCC" stroke-width="0.8"/>
<path d="M150.2 328.4L152.7 330.9L150.2 333.4L147.7 330.9Z" fill="#00CBCC"/>
<text x="160" y="333.3" font-size="6.8">Predicted</text>
<rect x="27.7" y="189.5" width="185.4" height="149.6" fill="none" stroke="#3a3a3a" stroke-width="0.9"/>
<text x="27.7" y="349.3" font-size="6.4" text-anchor="middle">-200</text>
<text x="58.6" y="349.3" font-size="6.4" text-anchor="middle">0</text>
<text x="89.5" y="349.3" font-size="6.4" text-anchor="middle">200</text>
<text x="120.4" y="349.3" font-size="6.4" text-anchor="middle">400</text>
<text x="151.3" y="349.3" font-size="6.4" text-anchor="middle">600</text>
<text x="182.2" y="349.3" font-size="6.4" text-anchor="middle">800</text>
<text x="213.1" y="349.3" font-size="6.4" text-anchor="middle">1000</text>
<text x="22.7" y="341.4" font-size="6.4" text-anchor="end">20</text>
<text x="22.7" y="322.7" font-size="6.4" text-anchor="end">40</text>
<text x="22.7" y="304" font-size="6.4" text-anchor="end">60</text>
<text x="22.7" y="285.3" font-size="6.4" text-anchor="end">80</text>
<text x="22.7" y="266.6" font-size="6.4" text-anchor="end">100</text>
<text x="22.7" y="247.9" font-size="6.4" text-anchor="end">120</text>
<text x="22.7" y="229.2" font-size="6.4" text-anchor="end">140</text>
<text x="22.7" y="210.5" font-size="6.4" text-anchor="end">160</text>
<text x="22.7" y="191.8" font-size="6.4" text-anchor="end">180</text>
<path d="M27.7 339.1V341.9M27.7 189.5V192.1M43.15 339.1V340.5M43.15 189.5V190.7M58.6 339.1V341.9M58.6 189.5V192.1M74.05 339.1V340.5M74.05 189.5V190.7M89.5 339.1V341.9M89.5 189.5V192.1M104.95 339.1V340.5M104.95 189.5V190.7M120.4 339.1V341.9M120.4 189.5V192.1M135.85 339.1V340.5M135.85 189.5V190.7M151.3 339.1V341.9M151.3 189.5V192.1M166.75 339.1V340.5M166.75 189.5V190.7M182.2 339.1V341.9M182.2 189.5V192.1M197.65 339.1V340.5M197.65 189.5V190.7M213.1 339.1V341.9M213.1 189.5V192.1M27.7 339.1H24.9M213.1 339.1H210.5M27.7 329.75H26.3M213.1 329.75H211.9M27.7 320.4H24.9M213.1 320.4H210.5M27.7 311.05H26.3M213.1 311.05H211.9M27.7 301.7H24.9M213.1 301.7H210.5M27.7 292.35H26.3M213.1 292.35H211.9M27.7 283H24.9M213.1 283H210.5M27.7 273.65H26.3M213.1 273.65H211.9M27.7 264.3H24.9M213.1 264.3H210.5M27.7 254.95H26.3M213.1 254.95H211.9M27.7 245.6H24.9M213.1 245.6H210.5M27.7 236.25H26.3M213.1 236.25H211.9M27.7 226.9H24.9M213.1 226.9H210.5M27.7 217.55H26.3M213.1 217.55H211.9M27.7 208.2H24.9M213.1 208.2H210.5M27.7 198.85H26.3M213.1 198.85H211.9M27.7 189.5H24.9M213.1 189.5H210.5" stroke="#3a3a3a" stroke-width="0.9" fill="none"/>
<text x="35.9" y="201.3" font-size="7.8">E1: LP<tspan font-size="5.2" dy="1.6">01</tspan><tspan dy="-1.6"> design</tspan></text>
<text x="120.4" y="361.6" font-size="7.75" text-anchor="middle">Propagation distance (μm)</text>
<text transform="translate(9.8 264.3) rotate(-90)" font-size="7.9" text-anchor="middle">Aeff (μm<tspan font-size="5.5" dy="-2">2</tspan><tspan dy="2">)</tspan></text>
<text x="5.2" y="361.7" font-size="9.6">c<tspan dx="1.1">)</tspan></text>
<line x1="285.37" y1="190.3" x2="285.37" y2="339.5" stroke="#a8a8a8" stroke-width="0.9"/>
<line x1="407.29" y1="190.3" x2="407.29" y2="339.5" stroke="#a8a8a8" stroke-width="0.9"/>
<clipPath id="cpd"><rect x="254.5" y="180.3" width="185.2" height="159.2"/></clipPath><g clip-path="url(#cpd)">
<path d="M259.1 325.42 L267.8 325.42 L276.7 325.42 L285.5 325.42 L293.61 321.97 L301.71 319.54 L309.82 314.42 L317.93 309.38 L326.03 305.37 L334.14 300.99 L342.25 294.55 L350.36 287 L358.46 280.57 L366.57 271.24 L374.68 266.02 L382.78 260.33 L390.89 254.18 L399 247.18 L407.11 238.79 L415.1 241.96 L423.3 241.96 L431.3 241.96 L439.4 241.96" fill="none" stroke="#515151" stroke-width="0.8"/>
<rect x="257.4" y="323.72" width="3.4" height="3.4" fill="#515151"/>
<rect x="266.1" y="323.72" width="3.4" height="3.4" fill="#515151"/>
<rect x="275" y="323.72" width="3.4" height="3.4" fill="#515151"/>
<rect x="283.8" y="323.72" width="3.4" height="3.4" fill="#515151"/>
<rect x="291.91" y="320.27" width="3.4" height="3.4" fill="#515151"/>
<rect x="300.01" y="317.84" width="3.4" height="3.4" fill="#515151"/>
<rect x="308.12" y="312.72" width="3.4" height="3.4" fill="#515151"/>
<rect x="316.23" y="307.68" width="3.4" height="3.4" fill="#515151"/>
<rect x="324.33" y="303.67" width="3.4" height="3.4" fill="#515151"/>
<rect x="332.44" y="299.29" width="3.4" height="3.4" fill="#515151"/>
<rect x="340.55" y="292.85" width="3.4" height="3.4" fill="#515151"/>
<rect x="348.66" y="285.3" width="3.4" height="3.4" fill="#515151"/>
<rect x="356.76" y="278.87" width="3.4" height="3.4" fill="#515151"/>
<rect x="364.87" y="269.54" width="3.4" height="3.4" fill="#515151"/>
<rect x="372.98" y="264.32" width="3.4" height="3.4" fill="#515151"/>
<rect x="381.08" y="258.63" width="3.4" height="3.4" fill="#515151"/>
<rect x="389.19" y="252.48" width="3.4" height="3.4" fill="#515151"/>
<rect x="397.3" y="245.48" width="3.4" height="3.4" fill="#515151"/>
<rect x="405.41" y="237.09" width="3.4" height="3.4" fill="#515151"/>
<rect x="413.4" y="240.26" width="3.4" height="3.4" fill="#515151"/>
<rect x="421.6" y="240.26" width="3.4" height="3.4" fill="#515151"/>
<rect x="429.6" y="240.26" width="3.4" height="3.4" fill="#515151"/>
<rect x="437.7" y="240.26" width="3.4" height="3.4" fill="#515151"/>
<path d="M259.1 327 L267.8 327 L276.7 327 L285.5 327 L293.61 323.65 L301.71 321.32 L309.82 316.93 L317.93 311.99 L326.03 308.26 L334.14 303.6 L342.25 298.94 L350.36 292.41 L358.46 286.35 L366.57 277.95 L374.68 273.01 L382.78 268.54 L390.89 263.59 L399 259.4 L407.11 252.4 L415.1 248.39 L423.3 248.39 L431.3 248.39 L439.4 248.39" fill="none" stroke="#F14040" stroke-width="0.8"/>
<circle cx="259.1" cy="327" r="2.1" fill="#F14040"/>
<circle cx="267.8" cy="327" r="2.1" fill="#F14040"/>
<circle cx="276.7" cy="327" r="2.1" fill="#F14040"/>
<circle cx="285.5" cy="327" r="2.1" fill="#F14040"/>
<circle cx="293.61" cy="323.65" r="2.1" fill="#F14040"/>
<circle cx="301.71" cy="321.32" r="2.1" fill="#F14040"/>
<circle cx="309.82" cy="316.93" r="2.1" fill="#F14040"/>
<circle cx="317.93" cy="311.99" r="2.1" fill="#F14040"/>
<circle cx="326.03" cy="308.26" r="2.1" fill="#F14040"/>
<circle cx="334.14" cy="303.6" r="2.1" fill="#F14040"/>
<circle cx="342.25" cy="298.94" r="2.1" fill="#F14040"/>
<circle cx="350.36" cy="292.41" r="2.1" fill="#F14040"/>
<circle cx="358.46" cy="286.35" r="2.1" fill="#F14040"/>
<circle cx="366.57" cy="277.95" r="2.1" fill="#F14040"/>
<circle cx="374.68" cy="273.01" r="2.1" fill="#F14040"/>
<circle cx="382.78" cy="268.54" r="2.1" fill="#F14040"/>
<circle cx="390.89" cy="263.59" r="2.1" fill="#F14040"/>
<circle cx="399" cy="259.4" r="2.1" fill="#F14040"/>
<circle cx="407.11" cy="252.4" r="2.1" fill="#F14040"/>
<circle cx="415.1" cy="248.39" r="2.1" fill="#F14040"/>
<circle cx="423.3" cy="248.39" r="2.1" fill="#F14040"/>
<circle cx="431.3" cy="248.39" r="2.1" fill="#F14040"/>
<circle cx="439.4" cy="248.39" r="2.1" fill="#F14040"/>
<path d="M259.1 323.93 L267.8 323.93 L276.7 323.93 L285.5 323.93 L293.61 321.04 L301.71 318.61 L309.82 314.42 L317.93 310.59 L326.03 306.86 L334.14 302.95 L342.25 297.44 L350.36 291.01 L358.46 285.32 L366.57 276.18 L374.68 271.71 L382.78 266.02 L390.89 260.33 L399 254.18 L407.11 246.72 L415.1 234.69 L423.3 234.69 L431.3 234.69 L439.4 234.69" fill="none" stroke="#1A6FDF" stroke-width="0.8"/>
<path d="M259.1 321.41L261.5 325.61L256.7 325.61Z" fill="#1A6FDF"/>
<path d="M267.8 321.41L270.2 325.61L265.4 325.61Z" fill="#1A6FDF"/>
<path d="M276.7 321.41L279.1 325.61L274.3 325.61Z" fill="#1A6FDF"/>
<path d="M285.5 321.41L287.9 325.61L283.1 325.61Z" fill="#1A6FDF"/>
<path d="M293.61 318.52L296.01 322.72L291.21 322.72Z" fill="#1A6FDF"/>
<path d="M301.71 316.09L304.11 320.29L299.31 320.29Z" fill="#1A6FDF"/>
<path d="M309.82 311.9L312.22 316.1L307.42 316.1Z" fill="#1A6FDF"/>
<path d="M317.93 308.07L320.33 312.27L315.53 312.27Z" fill="#1A6FDF"/>
<path d="M326.03 304.34L328.43 308.54L323.63 308.54Z" fill="#1A6FDF"/>
<path d="M334.14 300.43L336.54 304.63L331.74 304.63Z" fill="#1A6FDF"/>
<path d="M342.25 294.92L344.65 299.12L339.85 299.12Z" fill="#1A6FDF"/>
<path d="M350.36 288.49L352.76 292.69L347.96 292.69Z" fill="#1A6FDF"/>
<path d="M358.46 282.8L360.86 287L356.06 287Z" fill="#1A6FDF"/>
<path d="M366.57 273.66L368.97 277.86L364.17 277.86Z" fill="#1A6FDF"/>
<path d="M374.68 269.19L377.08 273.39L372.28 273.39Z" fill="#1A6FDF"/>
<path d="M382.78 263.5L385.18 267.7L380.38 267.7Z" fill="#1A6FDF"/>
<path d="M390.89 257.81L393.29 262.01L388.49 262.01Z" fill="#1A6FDF"/>
<path d="M399 251.66L401.4 255.86L396.6 255.86Z" fill="#1A6FDF"/>
<path d="M407.11 244.2L409.5 248.4L404.71 248.4Z" fill="#1A6FDF"/>
<path d="M415.1 232.17L417.5 236.37L412.7 236.37Z" fill="#1A6FDF"/>
<path d="M423.3 232.17L425.7 236.37L420.9 236.37Z" fill="#1A6FDF"/>
<path d="M431.3 232.17L433.7 236.37L428.9 236.37Z" fill="#1A6FDF"/>
<path d="M439.4 232.17L441.8 236.37L437 236.37Z" fill="#1A6FDF"/>
<path d="M259.1 325.98 L267.8 325.98 L276.7 325.98 L285.5 325.98 L293.61 324.11 L301.71 322.81 L309.82 320.48 L317.93 317.03 L326.03 313.58 L334.14 310.97 L342.25 306.4 L350.36 301.36 L358.46 296.05 L366.57 290.17 L374.68 285.79 L382.78 281.13 L390.89 276.37 L399 271.15 L407.11 264.53 L415.1 241.59 L423.3 241.59 L431.3 241.59 L439.4 241.59" fill="none" stroke="#37AD6B" stroke-width="0.8"/>
<path d="M259.1 328.5L261.5 324.3L256.7 324.3Z" fill="#37AD6B"/>
<path d="M267.8 328.5L270.2 324.3L265.4 324.3Z" fill="#37AD6B"/>
<path d="M276.7 328.5L279.1 324.3L274.3 324.3Z" fill="#37AD6B"/>
<path d="M285.5 328.5L287.9 324.3L283.1 324.3Z" fill="#37AD6B"/>
<path d="M293.61 326.63L296.01 322.43L291.21 322.43Z" fill="#37AD6B"/>
<path d="M301.71 325.33L304.11 321.13L299.31 321.13Z" fill="#37AD6B"/>
<path d="M309.82 323L312.22 318.8L307.42 318.8Z" fill="#37AD6B"/>
<path d="M317.93 319.55L320.33 315.35L315.53 315.35Z" fill="#37AD6B"/>
<path d="M326.03 316.1L328.43 311.9L323.63 311.9Z" fill="#37AD6B"/>
<path d="M334.14 313.49L336.54 309.29L331.74 309.29Z" fill="#37AD6B"/>
<path d="M342.25 308.92L344.65 304.72L339.85 304.72Z" fill="#37AD6B"/>
<path d="M350.36 303.88L352.76 299.68L347.96 299.68Z" fill="#37AD6B"/>
<path d="M358.46 298.57L360.86 294.37L356.06 294.37Z" fill="#37AD6B"/>
<path d="M366.57 292.69L368.97 288.49L364.17 288.49Z" fill="#37AD6B"/>
<path d="M374.68 288.31L377.08 284.11L372.28 284.11Z" fill="#37AD6B"/>
<path d="M382.78 283.65L385.18 279.45L380.38 279.45Z" fill="#37AD6B"/>
<path d="M390.89 278.89L393.29 274.69L388.49 274.69Z" fill="#37AD6B"/>
<path d="M399 273.67L401.4 269.47L396.6 269.47Z" fill="#37AD6B"/>
<path d="M407.11 267.05L409.5 262.85L404.71 262.85Z" fill="#37AD6B"/>
<path d="M415.1 244.11L417.5 239.91L412.7 239.91Z" fill="#37AD6B"/>
<path d="M423.3 244.11L425.7 239.91L420.9 239.91Z" fill="#37AD6B"/>
<path d="M431.3 244.11L433.7 239.91L428.9 239.91Z" fill="#37AD6B"/>
<path d="M439.4 244.11L441.8 239.91L437 239.91Z" fill="#37AD6B"/>
<path d="M285.5 325.42 L293.61 323.37 L301.71 320.85 L309.82 317.59 L317.93 313.2 L326.03 309.01 L334.14 304.53 L342.25 299.4 L350.36 292.97 L358.46 287 L366.57 278.89 L374.68 274.5 L382.78 269.84 L390.89 263.22 L399 256.97 L407.11 249.05" fill="none" stroke="#00CBCC" stroke-width="0.8"/>
<path d="M285.5 322.92L288 325.42L285.5 327.92L283 325.42Z" fill="#00CBCC"/>
<path d="M293.61 320.87L296.11 323.37L293.61 325.87L291.11 323.37Z" fill="#00CBCC"/>
<path d="M301.71 318.35L304.21 320.85L301.71 323.35L299.21 320.85Z" fill="#00CBCC"/>
<path d="M309.82 315.09L312.32 317.59L309.82 320.09L307.32 317.59Z" fill="#00CBCC"/>
<path d="M317.93 310.7L320.43 313.2L317.93 315.7L315.43 313.2Z" fill="#00CBCC"/>
<path d="M326.03 306.51L328.53 309.01L326.03 311.51L323.53 309.01Z" fill="#00CBCC"/>
<path d="M334.14 302.03L336.64 304.53L334.14 307.03L331.64 304.53Z" fill="#00CBCC"/>
<path d="M342.25 296.9L344.75 299.4L342.25 301.9L339.75 299.4Z" fill="#00CBCC"/>
<path d="M350.36 290.47L352.86 292.97L350.36 295.47L347.86 292.97Z" fill="#00CBCC"/>
<path d="M358.46 284.5L360.96 287L358.46 289.5L355.96 287Z" fill="#00CBCC"/>
<path d="M366.57 276.39L369.07 278.89L366.57 281.39L364.07 278.89Z" fill="#00CBCC"/>
<path d="M374.68 272L377.18 274.5L374.68 277L372.18 274.5Z" fill="#00CBCC"/>
<path d="M382.78 267.34L385.28 269.84L382.78 272.34L380.28 269.84Z" fill="#00CBCC"/>
<path d="M390.89 260.72L393.39 263.22L390.89 265.72L388.39 263.22Z" fill="#00CBCC"/>
<path d="M399 254.47L401.5 256.97L399 259.47L396.5 256.97Z" fill="#00CBCC"/>
<path d="M407.11 246.55L409.61 249.05L407.11 251.55L404.61 249.05Z" fill="#00CBCC"/>
</g>
<rect x="368.2" y="306" width="66.6" height="30.5" rx="0.8" fill="#fff" stroke="#bdbdbd" stroke-width="0.9"/>
<line x1="369.2" y1="311.1" x2="384.8" y2="311.1" stroke="#515151" stroke-width="0.8"/>
<rect x="375.3" y="309.4" width="3.4" height="3.4" fill="#515151"/>
<text x="386.8" y="313.5" font-size="6.8">LP<tspan font-size="4.8" dy="2.4">01</tspan></text>
<line x1="403" y1="311.1" x2="418.6" y2="311.1" stroke="#F14040" stroke-width="0.8"/>
<circle cx="410.8" cy="311.1" r="2.1" fill="#F14040"/>
<text x="420.6" y="313.5" font-size="6.8">LP<tspan font-size="4.8" dy="2.4">11</tspan></text>
<line x1="369.2" y1="321.2" x2="384.8" y2="321.2" stroke="#1A6FDF" stroke-width="0.8"/>
<path d="M377 318.68L379.4 322.88L374.6 322.88Z" fill="#1A6FDF"/>
<text x="386.8" y="323.6" font-size="6.8">LP<tspan font-size="4.8" dy="2.4">21</tspan></text>
<line x1="403" y1="321.2" x2="418.6" y2="321.2" stroke="#37AD6B" stroke-width="0.8"/>
<path d="M410.8 323.72L413.2 319.52L408.4 319.52Z" fill="#37AD6B"/>
<text x="420.6" y="323.6" font-size="6.8">LP<tspan font-size="4.8" dy="2.4">02</tspan></text>
<line x1="369.2" y1="331.3" x2="384.8" y2="331.3" stroke="#00CBCC" stroke-width="0.8"/>
<path d="M377 328.8L379.5 331.3L377 333.8L374.5 331.3Z" fill="#00CBCC"/>
<text x="386.8" y="333.7" font-size="6.8">Predicted</text>
<rect x="254.5" y="190.3" width="185.2" height="149.2" fill="none" stroke="#3a3a3a" stroke-width="0.9"/>
<text x="254.5" y="349.7" font-size="6.4" text-anchor="middle">-200</text>
<text x="285.37" y="349.7" font-size="6.4" text-anchor="middle">0</text>
<text x="316.23" y="349.7" font-size="6.4" text-anchor="middle">200</text>
<text x="347.1" y="349.7" font-size="6.4" text-anchor="middle">400</text>
<text x="377.97" y="349.7" font-size="6.4" text-anchor="middle">600</text>
<text x="408.83" y="349.7" font-size="6.4" text-anchor="middle">800</text>
<text x="439.7" y="349.7" font-size="6.4" text-anchor="middle">1000</text>
<text x="249.5" y="341.8" font-size="6.4" text-anchor="end">20</text>
<text x="249.5" y="323.15" font-size="6.4" text-anchor="end">40</text>
<text x="249.5" y="304.5" font-size="6.4" text-anchor="end">60</text>
<text x="249.5" y="285.85" font-size="6.4" text-anchor="end">80</text>
<text x="249.5" y="267.2" font-size="6.4" text-anchor="end">100</text>
<text x="249.5" y="248.55" font-size="6.4" text-anchor="end">120</text>
<text x="249.5" y="229.9" font-size="6.4" text-anchor="end">140</text>
<text x="249.5" y="211.25" font-size="6.4" text-anchor="end">160</text>
<text x="249.5" y="192.6" font-size="6.4" text-anchor="end">180</text>
<path d="M254.5 339.5V342.3M254.5 190.3V192.9M269.93 339.5V340.9M269.93 190.3V191.5M285.37 339.5V342.3M285.37 190.3V192.9M300.8 339.5V340.9M300.8 190.3V191.5M316.23 339.5V342.3M316.23 190.3V192.9M331.67 339.5V340.9M331.67 190.3V191.5M347.1 339.5V342.3M347.1 190.3V192.9M362.53 339.5V340.9M362.53 190.3V191.5M377.97 339.5V342.3M377.97 190.3V192.9M393.4 339.5V340.9M393.4 190.3V191.5M408.83 339.5V342.3M408.83 190.3V192.9M424.27 339.5V340.9M424.27 190.3V191.5M439.7 339.5V342.3M439.7 190.3V192.9M254.5 339.5H251.7M439.7 339.5H437.1M254.5 330.18H253.1M439.7 330.18H438.5M254.5 320.85H251.7M439.7 320.85H437.1M254.5 311.52H253.1M439.7 311.52H438.5M254.5 302.2H251.7M439.7 302.2H437.1M254.5 292.88H253.1M439.7 292.88H438.5M254.5 283.55H251.7M439.7 283.55H437.1M254.5 274.23H253.1M439.7 274.23H438.5M254.5 264.9H251.7M439.7 264.9H437.1M254.5 255.57H253.1M439.7 255.57H438.5M254.5 246.25H251.7M439.7 246.25H437.1M254.5 236.93H253.1M439.7 236.93H438.5M254.5 227.6H251.7M439.7 227.6H437.1M254.5 218.28H253.1M439.7 218.28H438.5M254.5 208.95H251.7M439.7 208.95H437.1M254.5 199.62H253.1M439.7 199.62H438.5M254.5 190.3H251.7M439.7 190.3H437.1" stroke="#3a3a3a" stroke-width="0.9" fill="none"/>
<text x="262.7" y="202.1" font-size="7.8">E2: LP<tspan font-size="5.2" dy="1.6">11</tspan><tspan dy="-1.6"> design</tspan></text>
<text x="347.1" y="362" font-size="7.75" text-anchor="middle">Propagation distance (μm)</text>
<text transform="translate(235.3 264.9) rotate(-90)" font-size="7.9" text-anchor="middle">Aeff (μm<tspan font-size="5.5" dy="-2">2</tspan><tspan dy="2">)</tspan></text>
<text x="230.2" y="362.1" font-size="9.6">d<tspan dx="1.1">)</tspan></text>
<line x1="59.63" y1="372.9" x2="59.63" y2="522" stroke="#a8a8a8" stroke-width="0.9"/>
<line x1="181.82" y1="372.9" x2="181.82" y2="522" stroke="#a8a8a8" stroke-width="0.9"/>
<clipPath id="cpe"><rect x="28.7" y="362.9" width="185.6" height="159.1"/></clipPath><g clip-path="url(#cpe)">
<path d="M33.3 508.49 L42 508.49 L50.9 508.49 L59.7 508.49 L67.81 504.76 L75.91 501.03 L84.02 496.37 L92.13 490.04 L100.23 484.45 L108.34 477.64 L116.45 472.05 L124.56 465.62 L132.66 459.01 L140.77 449.97 L148.88 438.78 L156.98 430.77 L165.09 424.43 L173.2 416.88 L181.31 408.96 L189.3 424.34 L197.5 424.34 L205.5 424.34 L213.6 424.34" fill="none" stroke="#515151" stroke-width="0.8"/>
<rect x="31.6" y="506.79" width="3.4" height="3.4" fill="#515151"/>
<rect x="40.3" y="506.79" width="3.4" height="3.4" fill="#515151"/>
<rect x="49.2" y="506.79" width="3.4" height="3.4" fill="#515151"/>
<rect x="58" y="506.79" width="3.4" height="3.4" fill="#515151"/>
<rect x="66.11" y="503.06" width="3.4" height="3.4" fill="#515151"/>
<rect x="74.21" y="499.33" width="3.4" height="3.4" fill="#515151"/>
<rect x="82.32" y="494.67" width="3.4" height="3.4" fill="#515151"/>
<rect x="90.43" y="488.34" width="3.4" height="3.4" fill="#515151"/>
<rect x="98.53" y="482.75" width="3.4" height="3.4" fill="#515151"/>
<rect x="106.64" y="475.94" width="3.4" height="3.4" fill="#515151"/>
<rect x="114.75" y="470.35" width="3.4" height="3.4" fill="#515151"/>
<rect x="122.86" y="463.92" width="3.4" height="3.4" fill="#515151"/>
<rect x="130.96" y="457.31" width="3.4" height="3.4" fill="#515151"/>
<rect x="139.07" y="448.27" width="3.4" height="3.4" fill="#515151"/>
<rect x="147.18" y="437.08" width="3.4" height="3.4" fill="#515151"/>
<rect x="155.28" y="429.07" width="3.4" height="3.4" fill="#515151"/>
<rect x="163.39" y="422.73" width="3.4" height="3.4" fill="#515151"/>
<rect x="171.5" y="415.18" width="3.4" height="3.4" fill="#515151"/>
<rect x="179.61" y="407.26" width="3.4" height="3.4" fill="#515151"/>
<rect x="187.6" y="422.64" width="3.4" height="3.4" fill="#515151"/>
<rect x="195.8" y="422.64" width="3.4" height="3.4" fill="#515151"/>
<rect x="203.8" y="422.64" width="3.4" height="3.4" fill="#515151"/>
<rect x="211.9" y="422.64" width="3.4" height="3.4" fill="#515151"/>
<path d="M33.3 509.98 L42 509.98 L50.9 509.98 L59.7 509.98 L67.81 505.97 L75.91 502.43 L84.02 498.42 L92.13 494.04 L100.23 489.01 L108.34 483.05 L116.45 477.64 L124.56 471.59 L132.66 465.62 L140.77 457.61 L148.88 447.26 L156.98 440.37 L165.09 437.57 L173.2 430.77 L181.31 424.43 L189.3 430.68 L197.5 430.68 L205.5 430.68 L213.6 430.68" fill="none" stroke="#F14040" stroke-width="0.8"/>
<circle cx="33.3" cy="509.98" r="2.1" fill="#F14040"/>
<circle cx="42" cy="509.98" r="2.1" fill="#F14040"/>
<circle cx="50.9" cy="509.98" r="2.1" fill="#F14040"/>
<circle cx="59.7" cy="509.98" r="2.1" fill="#F14040"/>
<circle cx="67.81" cy="505.97" r="2.1" fill="#F14040"/>
<circle cx="75.91" cy="502.43" r="2.1" fill="#F14040"/>
<circle cx="84.02" cy="498.42" r="2.1" fill="#F14040"/>
<circle cx="92.13" cy="494.04" r="2.1" fill="#F14040"/>
<circle cx="100.23" cy="489.01" r="2.1" fill="#F14040"/>
<circle cx="108.34" cy="483.05" r="2.1" fill="#F14040"/>
<circle cx="116.45" cy="477.64" r="2.1" fill="#F14040"/>
<circle cx="124.56" cy="471.59" r="2.1" fill="#F14040"/>
<circle cx="132.66" cy="465.62" r="2.1" fill="#F14040"/>
<circle cx="140.77" cy="457.61" r="2.1" fill="#F14040"/>
<circle cx="148.88" cy="447.26" r="2.1" fill="#F14040"/>
<circle cx="156.98" cy="440.37" r="2.1" fill="#F14040"/>
<circle cx="165.09" cy="437.57" r="2.1" fill="#F14040"/>
<circle cx="173.2" cy="430.77" r="2.1" fill="#F14040"/>
<circle cx="181.31" cy="424.43" r="2.1" fill="#F14040"/>
<circle cx="189.3" cy="430.68" r="2.1" fill="#F14040"/>
<circle cx="197.5" cy="430.68" r="2.1" fill="#F14040"/>
<circle cx="205.5" cy="430.68" r="2.1" fill="#F14040"/>
<circle cx="213.6" cy="430.68" r="2.1" fill="#F14040"/>
<path d="M33.3 506.44 L42 506.44 L50.9 506.44 L59.7 506.44 L67.81 503.18 L75.91 500.01 L84.02 495.53 L92.13 491.62 L100.23 487.15 L108.34 481.74 L116.45 475.78 L124.56 470.37 L132.66 464.32 L140.77 455.84 L148.88 445.12 L156.98 438.13 L165.09 432.82 L173.2 425.36 L181.31 417.07 L189.3 417.54 L197.5 417.54 L205.5 417.54 L213.6 417.54" fill="none" stroke="#1A6FDF" stroke-width="0.8"/>
<path d="M33.3 503.92L35.7 508.12L30.9 508.12Z" fill="#1A6FDF"/>
<path d="M42 503.92L44.4 508.12L39.6 508.12Z" fill="#1A6FDF"/>
<path d="M50.9 503.92L53.3 508.12L48.5 508.12Z" fill="#1A6FDF"/>
<path d="M59.7 503.92L62.1 508.12L57.3 508.12Z" fill="#1A6FDF"/>
<path d="M67.81 500.66L70.21 504.86L65.41 504.86Z" fill="#1A6FDF"/>
<path d="M75.91 497.49L78.31 501.69L73.51 501.69Z" fill="#1A6FDF"/>
<path d="M84.02 493.01L86.42 497.21L81.62 497.21Z" fill="#1A6FDF"/>
<path d="M92.13 489.1L94.53 493.3L89.73 493.3Z" fill="#1A6FDF"/>
<path d="M100.23 484.63L102.64 488.83L97.83 488.83Z" fill="#1A6FDF"/>
<path d="M108.34 479.22L110.74 483.42L105.94 483.42Z" fill="#1A6FDF"/>
<path d="M116.45 473.26L118.85 477.46L114.05 477.46Z" fill="#1A6FDF"/>
<path d="M124.56 467.85L126.96 472.05L122.16 472.05Z" fill="#1A6FDF"/>
<path d="M132.66 461.8L135.06 466L130.26 466Z" fill="#1A6FDF"/>
<path d="M140.77 453.32L143.17 457.52L138.37 457.52Z" fill="#1A6FDF"/>
<path d="M148.88 442.6L151.28 446.8L146.48 446.8Z" fill="#1A6FDF"/>
<path d="M156.98 435.61L159.38 439.81L154.58 439.81Z" fill="#1A6FDF"/>
<path d="M165.09 430.3L167.49 434.5L162.69 434.5Z" fill="#1A6FDF"/>
<path d="M173.2 422.84L175.6 427.04L170.8 427.04Z" fill="#1A6FDF"/>
<path d="M181.31 414.55L183.71 418.75L178.91 418.75Z" fill="#1A6FDF"/>
<path d="M189.3 415.02L191.7 419.22L186.9 419.22Z" fill="#1A6FDF"/>
<path d="M197.5 415.02L199.9 419.22L195.1 419.22Z" fill="#1A6FDF"/>
<path d="M205.5 415.02L207.9 419.22L203.1 419.22Z" fill="#1A6FDF"/>
<path d="M213.6 415.02L216 419.22L211.2 419.22Z" fill="#1A6FDF"/>
<path d="M33.3 508.39 L42 508.39 L50.9 508.39 L59.7 508.39 L67.81 507 L75.91 505.04 L84.02 501.59 L92.13 498.42 L100.23 494.42 L108.34 489.57 L116.45 485.56 L124.56 481 L132.66 475.97 L140.77 468.88 L148.88 460.5 L156.98 454.9 L165.09 449.22 L173.2 443.91 L181.31 437.39 L189.3 424.15 L197.5 424.15 L205.5 424.15 L213.6 424.15" fill="none" stroke="#37AD6B" stroke-width="0.8"/>
<path d="M33.3 510.91L35.7 506.71L30.9 506.71Z" fill="#37AD6B"/>
<path d="M42 510.91L44.4 506.71L39.6 506.71Z" fill="#37AD6B"/>
<path d="M50.9 510.91L53.3 506.71L48.5 506.71Z" fill="#37AD6B"/>
<path d="M59.7 510.91L62.1 506.71L57.3 506.71Z" fill="#37AD6B"/>
<path d="M67.81 509.52L70.21 505.32L65.41 505.32Z" fill="#37AD6B"/>
<path d="M75.91 507.56L78.31 503.36L73.51 503.36Z" fill="#37AD6B"/>
<path d="M84.02 504.11L86.42 499.91L81.62 499.91Z" fill="#37AD6B"/>
<path d="M92.13 500.94L94.53 496.74L89.73 496.74Z" fill="#37AD6B"/>
<path d="M100.23 496.94L102.64 492.74L97.83 492.74Z" fill="#37AD6B"/>
<path d="M108.34 492.09L110.74 487.89L105.94 487.89Z" fill="#37AD6B"/>
<path d="M116.45 488.08L118.85 483.88L114.05 483.88Z" fill="#37AD6B"/>
<path d="M124.56 483.52L126.96 479.32L122.16 479.32Z" fill="#37AD6B"/>
<path d="M132.66 478.49L135.06 474.29L130.26 474.29Z" fill="#37AD6B"/>
<path d="M140.77 471.4L143.17 467.2L138.37 467.2Z" fill="#37AD6B"/>
<path d="M148.88 463.02L151.28 458.82L146.48 458.82Z" fill="#37AD6B"/>
<path d="M156.98 457.42L159.38 453.22L154.58 453.22Z" fill="#37AD6B"/>
<path d="M165.09 451.74L167.49 447.54L162.69 447.54Z" fill="#37AD6B"/>
<path d="M173.2 446.43L175.6 442.23L170.8 442.23Z" fill="#37AD6B"/>
<path d="M181.31 439.91L183.71 435.71L178.91 435.71Z" fill="#37AD6B"/>
<path d="M189.3 426.67L191.7 422.47L186.9 422.47Z" fill="#37AD6B"/>
<path d="M197.5 426.67L199.9 422.47L195.1 422.47Z" fill="#37AD6B"/>
<path d="M205.5 426.67L207.9 422.47L203.1 422.47Z" fill="#37AD6B"/>
<path d="M213.6 426.67L216 422.47L211.2 422.47Z" fill="#37AD6B"/>
<path d="M59.7 507 L67.81 502.99 L75.91 499.63 L84.02 494.98 L92.13 490.97 L100.23 486.4 L108.34 481 L116.45 475.03 L124.56 469.63 L132.66 463.57 L140.77 455.09 L148.88 444.37 L156.98 437.11 L165.09 431.89 L173.2 424.43 L181.31 416.88" fill="none" stroke="#00CBCC" stroke-width="0.8"/>
<path d="M59.7 504.5L62.2 507L59.7 509.5L57.2 507Z" fill="#00CBCC"/>
<path d="M67.81 500.49L70.31 502.99L67.81 505.49L65.31 502.99Z" fill="#00CBCC"/>
<path d="M75.91 497.13L78.41 499.63L75.91 502.13L73.41 499.63Z" fill="#00CBCC"/>
<path d="M84.02 492.48L86.52 494.98L84.02 497.48L81.52 494.98Z" fill="#00CBCC"/>
<path d="M92.13 488.47L94.63 490.97L92.13 493.47L89.63 490.97Z" fill="#00CBCC"/>
<path d="M100.23 483.9L102.73 486.4L100.23 488.9L97.73 486.4Z" fill="#00CBCC"/>
<path d="M108.34 478.5L110.84 481L108.34 483.5L105.84 481Z" fill="#00CBCC"/>
<path d="M116.45 472.53L118.95 475.03L116.45 477.53L113.95 475.03Z" fill="#00CBCC"/>
<path d="M124.56 467.13L127.06 469.63L124.56 472.13L122.06 469.63Z" fill="#00CBCC"/>
<path d="M132.66 461.07L135.16 463.57L132.66 466.07L130.16 463.57Z" fill="#00CBCC"/>
<path d="M140.77 452.59L143.27 455.09L140.77 457.59L138.27 455.09Z" fill="#00CBCC"/>
<path d="M148.88 441.87L151.38 444.37L148.88 446.87L146.38 444.37Z" fill="#00CBCC"/>
<path d="M156.98 434.61L159.48 437.11L156.98 439.61L154.48 437.11Z" fill="#00CBCC"/>
<path d="M165.09 429.39L167.59 431.89L165.09 434.39L162.59 431.89Z" fill="#00CBCC"/>
<path d="M173.2 421.93L175.7 424.43L173.2 426.93L170.7 424.43Z" fill="#00CBCC"/>
<path d="M181.31 414.38L183.81 416.88L181.31 419.38L178.81 416.88Z" fill="#00CBCC"/>
</g>
<rect x="142.4" y="488.5" width="66.6" height="30.5" rx="0.8" fill="#fff" stroke="#bdbdbd" stroke-width="0.9"/>
<line x1="143.4" y1="493.6" x2="159" y2="493.6" stroke="#515151" stroke-width="0.8"/>
<rect x="149.5" y="491.9" width="3.4" height="3.4" fill="#515151"/>
<text x="161" y="496" font-size="6.8">LP<tspan font-size="4.8" dy="2.4">01</tspan></text>
<line x1="177.2" y1="493.6" x2="192.8" y2="493.6" stroke="#F14040" stroke-width="0.8"/>
<circle cx="185" cy="493.6" r="2.1" fill="#F14040"/>
<text x="194.8" y="496" font-size="6.8">LP<tspan font-size="4.8" dy="2.4">11</tspan></text>
<line x1="143.4" y1="503.7" x2="159" y2="503.7" stroke="#1A6FDF" stroke-width="0.8"/>
<path d="M151.2 501.18L153.6 505.38L148.8 505.38Z" fill="#1A6FDF"/>
<text x="161" y="506.1" font-size="6.8">LP<tspan font-size="4.8" dy="2.4">21</tspan></text>
<line x1="177.2" y1="503.7" x2="192.8" y2="503.7" stroke="#37AD6B" stroke-width="0.8"/>
<path d="M185 506.22L187.4 502.02L182.6 502.02Z" fill="#37AD6B"/>
<text x="194.8" y="506.1" font-size="6.8">LP<tspan font-size="4.8" dy="2.4">02</tspan></text>
<line x1="143.4" y1="513.8" x2="159" y2="513.8" stroke="#00CBCC" stroke-width="0.8"/>
<path d="M151.2 511.3L153.7 513.8L151.2 516.3L148.7 513.8Z" fill="#00CBCC"/>
<text x="161" y="516.2" font-size="6.8">Predicted</text>
<rect x="28.7" y="372.9" width="185.6" height="149.1" fill="none" stroke="#3a3a3a" stroke-width="0.9"/>
<text x="28.7" y="532.2" font-size="6.4" text-anchor="middle">-200</text>
<text x="59.63" y="532.2" font-size="6.4" text-anchor="middle">0</text>
<text x="90.57" y="532.2" font-size="6.4" text-anchor="middle">200</text>
<text x="121.5" y="532.2" font-size="6.4" text-anchor="middle">400</text>
<text x="152.43" y="532.2" font-size="6.4" text-anchor="middle">600</text>
<text x="183.37" y="532.2" font-size="6.4" text-anchor="middle">800</text>
<text x="214.3" y="532.2" font-size="6.4" text-anchor="middle">1000</text>
<text x="23.7" y="524.3" font-size="6.4" text-anchor="end">20</text>
<text x="23.7" y="505.66" font-size="6.4" text-anchor="end">40</text>
<text x="23.7" y="487.03" font-size="6.4" text-anchor="end">60</text>
<text x="23.7" y="468.39" font-size="6.4" text-anchor="end">80</text>
<text x="23.7" y="449.75" font-size="6.4" text-anchor="end">100</text>
<text x="23.7" y="431.11" font-size="6.4" text-anchor="end">120</text>
<text x="23.7" y="412.47" font-size="6.4" text-anchor="end">140</text>
<text x="23.7" y="393.84" font-size="6.4" text-anchor="end">160</text>
<text x="23.7" y="375.2" font-size="6.4" text-anchor="end">180</text>
<path d="M28.7 522V524.8M28.7 372.9V375.5M44.17 522V523.4M44.17 372.9V374.1M59.63 522V524.8M59.63 372.9V375.5M75.1 522V523.4M75.1 372.9V374.1M90.57 522V524.8M90.57 372.9V375.5M106.03 522V523.4M106.03 372.9V374.1M121.5 522V524.8M121.5 372.9V375.5M136.97 522V523.4M136.97 372.9V374.1M152.43 522V524.8M152.43 372.9V375.5M167.9 522V523.4M167.9 372.9V374.1M183.37 522V524.8M183.37 372.9V375.5M198.83 522V523.4M198.83 372.9V374.1M214.3 522V524.8M214.3 372.9V375.5M28.7 522H25.9M214.3 522H211.7M28.7 512.68H27.3M214.3 512.68H213.1M28.7 503.36H25.9M214.3 503.36H211.7M28.7 494.04H27.3M214.3 494.04H213.1M28.7 484.73H25.9M214.3 484.73H211.7M28.7 475.41H27.3M214.3 475.41H213.1M28.7 466.09H25.9M214.3 466.09H211.7M28.7 456.77H27.3M214.3 456.77H213.1M28.7 447.45H25.9M214.3 447.45H211.7M28.7 438.13H27.3M214.3 438.13H213.1M28.7 428.81H25.9M214.3 428.81H211.7M28.7 419.49H27.3M214.3 419.49H213.1M28.7 410.17H25.9M214.3 410.17H211.7M28.7 400.86H27.3M214.3 400.86H213.1M28.7 391.54H25.9M214.3 391.54H211.7M28.7 382.22H27.3M214.3 382.22H213.1M28.7 372.9H25.9M214.3 372.9H211.7" stroke="#3a3a3a" stroke-width="0.9" fill="none"/>
<text x="36.9" y="384.7" font-size="7.8">E3: LP<tspan font-size="5.2" dy="1.6">21</tspan><tspan dy="-1.6"> design</tspan></text>
<text x="121.5" y="544.5" font-size="7.75" text-anchor="middle">Propagation distance (μm)</text>
<text transform="translate(9.8 447.45) rotate(-90)" font-size="7.9" text-anchor="middle">Aeff (μm<tspan font-size="5.5" dy="-2">2</tspan><tspan dy="2">)</tspan></text>
<text x="5.2" y="544.6" font-size="9.6">e<tspan dx="1.1">)</tspan></text>
<line x1="286.58" y1="373.5" x2="286.58" y2="523" stroke="#a8a8a8" stroke-width="0.9"/>
<line x1="408.57" y1="373.5" x2="408.57" y2="523" stroke="#a8a8a8" stroke-width="0.9"/>
<clipPath id="cpf"><rect x="255.7" y="363.5" width="185.3" height="159.5"/></clipPath><g clip-path="url(#cpf)">
<path d="M260.3 508.98 L269 508.98 L277.9 508.98 L286.7 508.98 L294.81 503.56 L302.91 498.89 L311.02 494.41 L319.13 487.77 L327.24 481.05 L335.34 474.41 L343.45 467.78 L351.56 458.15 L359.66 447.13 L367.77 439.37 L375.88 432.18 L383.98 423.77 L392.09 414.71 L400.2 403.87 L408.3 391.63 L416.3 424.8 L424.5 424.8 L432.5 424.8 L440.6 424.8" fill="none" stroke="#515151" stroke-width="0.8"/>
<rect x="258.6" y="507.28" width="3.4" height="3.4" fill="#515151"/>
<rect x="267.3" y="507.28" width="3.4" height="3.4" fill="#515151"/>
<rect x="276.2" y="507.28" width="3.4" height="3.4" fill="#515151"/>
<rect x="285" y="507.28" width="3.4" height="3.4" fill="#515151"/>
<rect x="293.11" y="501.87" width="3.4" height="3.4" fill="#515151"/>
<rect x="301.21" y="497.19" width="3.4" height="3.4" fill="#515151"/>
<rect x="309.32" y="492.71" width="3.4" height="3.4" fill="#515151"/>
<rect x="317.43" y="486.07" width="3.4" height="3.4" fill="#515151"/>
<rect x="325.54" y="479.35" width="3.4" height="3.4" fill="#515151"/>
<rect x="333.64" y="472.71" width="3.4" height="3.4" fill="#515151"/>
<rect x="341.75" y="466.08" width="3.4" height="3.4" fill="#515151"/>
<rect x="349.86" y="456.45" width="3.4" height="3.4" fill="#515151"/>
<rect x="357.96" y="445.43" width="3.4" height="3.4" fill="#515151"/>
<rect x="366.07" y="437.67" width="3.4" height="3.4" fill="#515151"/>
<rect x="374.18" y="430.48" width="3.4" height="3.4" fill="#515151"/>
<rect x="382.28" y="422.07" width="3.4" height="3.4" fill="#515151"/>
<rect x="390.39" y="413.01" width="3.4" height="3.4" fill="#515151"/>
<rect x="398.5" y="402.17" width="3.4" height="3.4" fill="#515151"/>
<rect x="406.6" y="389.93" width="3.4" height="3.4" fill="#515151"/>
<rect x="414.6" y="423.1" width="3.4" height="3.4" fill="#515151"/>
<rect x="422.8" y="423.1" width="3.4" height="3.4" fill="#515151"/>
<rect x="430.8" y="423.1" width="3.4" height="3.4" fill="#515151"/>
<rect x="438.9" y="423.1" width="3.4" height="3.4" fill="#515151"/>
<path d="M260.3 511.13 L269 511.13 L277.9 511.13 L286.7 511.13 L294.81 505.62 L302.91 501.79 L311.02 497.77 L319.13 492.26 L327.24 486.19 L335.34 480.02 L343.45 473.76 L351.56 465.54 L359.66 455.16 L367.77 448.44 L375.88 442.74 L383.98 434.51 L392.09 429.38 L400.2 420.5 L408.3 409.94 L416.3 431.81 L424.5 431.81 L432.5 431.81 L440.6 431.81" fill="none" stroke="#F14040" stroke-width="0.8"/>
<circle cx="260.3" cy="511.13" r="2.1" fill="#F14040"/>
<circle cx="269" cy="511.13" r="2.1" fill="#F14040"/>
<circle cx="277.9" cy="511.13" r="2.1" fill="#F14040"/>
<circle cx="286.7" cy="511.13" r="2.1" fill="#F14040"/>
<circle cx="294.81" cy="505.62" r="2.1" fill="#F14040"/>
<circle cx="302.91" cy="501.79" r="2.1" fill="#F14040"/>
<circle cx="311.02" cy="497.77" r="2.1" fill="#F14040"/>
<circle cx="319.13" cy="492.26" r="2.1" fill="#F14040"/>
<circle cx="327.24" cy="486.19" r="2.1" fill="#F14040"/>
<circle cx="335.34" cy="480.02" r="2.1" fill="#F14040"/>
<circle cx="343.45" cy="473.76" r="2.1" fill="#F14040"/>
<circle cx="351.56" cy="465.54" r="2.1" fill="#F14040"/>
<circle cx="359.66" cy="455.16" r="2.1" fill="#F14040"/>
<circle cx="367.77" cy="448.44" r="2.1" fill="#F14040"/>
<circle cx="375.88" cy="442.74" r="2.1" fill="#F14040"/>
<circle cx="383.98" cy="434.51" r="2.1" fill="#F14040"/>
<circle cx="392.09" cy="429.38" r="2.1" fill="#F14040"/>
<circle cx="400.2" cy="420.5" r="2.1" fill="#F14040"/>
<circle cx="408.3" cy="409.94" r="2.1" fill="#F14040"/>
<circle cx="416.3" cy="431.81" r="2.1" fill="#F14040"/>
<circle cx="424.5" cy="431.81" r="2.1" fill="#F14040"/>
<circle cx="432.5" cy="431.81" r="2.1" fill="#F14040"/>
<circle cx="440.6" cy="431.81" r="2.1" fill="#F14040"/>
<path d="M260.3 506.65 L269 506.65 L277.9 506.65 L286.7 506.65 L294.81 503.28 L302.91 498.89 L311.02 495.44 L319.13 490.02 L327.24 483.29 L335.34 477.31 L343.45 471.14 L351.56 463.29 L359.66 452.92 L367.77 445.82 L375.88 439.47 L383.98 431.9 L392.09 423.21 L400.2 413.3 L408.3 402 L416.3 417.7 L424.5 417.7 L432.5 417.7 L440.6 417.7" fill="none" stroke="#1A6FDF" stroke-width="0.8"/>
<path d="M260.3 504.13L262.7 508.33L257.9 508.33Z" fill="#1A6FDF"/>
<path d="M269 504.13L271.4 508.33L266.6 508.33Z" fill="#1A6FDF"/>
<path d="M277.9 504.13L280.3 508.33L275.5 508.33Z" fill="#1A6FDF"/>
<path d="M286.7 504.13L289.1 508.33L284.3 508.33Z" fill="#1A6FDF"/>
<path d="M294.81 500.76L297.21 504.96L292.41 504.96Z" fill="#1A6FDF"/>
<path d="M302.91 496.37L305.31 500.57L300.51 500.57Z" fill="#1A6FDF"/>
<path d="M311.02 492.92L313.42 497.12L308.62 497.12Z" fill="#1A6FDF"/>
<path d="M319.13 487.5L321.53 491.7L316.73 491.7Z" fill="#1A6FDF"/>
<path d="M327.24 480.77L329.63 484.97L324.84 484.97Z" fill="#1A6FDF"/>
<path d="M335.34 474.79L337.74 478.99L332.94 478.99Z" fill="#1A6FDF"/>
<path d="M343.45 468.62L345.85 472.82L341.05 472.82Z" fill="#1A6FDF"/>
<path d="M351.56 460.77L353.96 464.97L349.16 464.97Z" fill="#1A6FDF"/>
<path d="M359.66 450.4L362.06 454.6L357.26 454.6Z" fill="#1A6FDF"/>
<path d="M367.77 443.3L370.17 447.5L365.37 447.5Z" fill="#1A6FDF"/>
<path d="M375.88 436.95L378.28 441.15L373.48 441.15Z" fill="#1A6FDF"/>
<path d="M383.98 429.38L386.38 433.58L381.58 433.58Z" fill="#1A6FDF"/>
<path d="M392.09 420.69L394.49 424.89L389.69 424.89Z" fill="#1A6FDF"/>
<path d="M400.2 410.78L402.6 414.98L397.8 414.98Z" fill="#1A6FDF"/>
<path d="M408.3 399.48L410.7 403.68L405.9 403.68Z" fill="#1A6FDF"/>
<path d="M416.3 415.18L418.7 419.38L413.9 419.38Z" fill="#1A6FDF"/>
<path d="M424.5 415.18L426.9 419.38L422.1 419.38Z" fill="#1A6FDF"/>
<path d="M432.5 415.18L434.9 419.38L430.1 419.38Z" fill="#1A6FDF"/>
<path d="M440.6 415.18L443 419.38L438.2 419.38Z" fill="#1A6FDF"/>
<path d="M260.3 508.89 L269 508.89 L277.9 508.89 L286.7 508.89 L294.81 507.77 L302.91 504.41 L311.02 501.14 L319.13 496.65 L327.24 492.26 L335.34 487.77 L343.45 482.17 L351.56 475.53 L359.66 466.28 L367.77 461.05 L375.88 455.54 L383.98 449.09 L392.09 441.71 L400.2 433.21 L408.3 423.68 L416.3 424.8 L424.5 424.8 L432.5 424.8 L440.6 424.8" fill="none" stroke="#37AD6B" stroke-width="0.8"/>
<path d="M260.3 511.41L262.7 507.21L257.9 507.21Z" fill="#37AD6B"/>
<path d="M269 511.41L271.4 507.21L266.6 507.21Z" fill="#37AD6B"/>
<path d="M277.9 511.41L280.3 507.21L275.5 507.21Z" fill="#37AD6B"/>
<path d="M286.7 511.41L289.1 507.21L284.3 507.21Z" fill="#37AD6B"/>
<path d="M294.81 510.29L297.21 506.09L292.41 506.09Z" fill="#37AD6B"/>
<path d="M302.91 506.93L305.31 502.73L300.51 502.73Z" fill="#37AD6B"/>
<path d="M311.02 503.66L313.42 499.46L308.62 499.46Z" fill="#37AD6B"/>
<path d="M319.13 499.17L321.53 494.97L316.73 494.97Z" fill="#37AD6B"/>
<path d="M327.24 494.78L329.63 490.58L324.84 490.58Z" fill="#37AD6B"/>
<path d="M335.34 490.29L337.74 486.09L332.94 486.09Z" fill="#37AD6B"/>
<path d="M343.45 484.69L345.85 480.49L341.05 480.49Z" fill="#37AD6B"/>
<path d="M351.56 478.05L353.96 473.85L349.16 473.85Z" fill="#37AD6B"/>
<path d="M359.66 468.8L362.06 464.6L357.26 464.6Z" fill="#37AD6B"/>
<path d="M367.77 463.57L370.17 459.37L365.37 459.37Z" fill="#37AD6B"/>
<path d="M375.88 458.06L378.28 453.86L373.48 453.86Z" fill="#37AD6B"/>
<path d="M383.98 451.61L386.38 447.41L381.58 447.41Z" fill="#37AD6B"/>
<path d="M392.09 444.23L394.49 440.03L389.69 440.03Z" fill="#37AD6B"/>
<path d="M400.2 435.73L402.6 431.53L397.8 431.53Z" fill="#37AD6B"/>
<path d="M408.3 426.2L410.7 422L405.9 422Z" fill="#37AD6B"/>
<path d="M416.3 427.32L418.7 423.12L413.9 423.12Z" fill="#37AD6B"/>
<path d="M424.5 427.32L426.9 423.12L422.1 423.12Z" fill="#37AD6B"/>
<path d="M432.5 427.32L434.9 423.12L430.1 423.12Z" fill="#37AD6B"/>
<path d="M440.6 427.32L443 423.12L438.2 423.12Z" fill="#37AD6B"/>
<path d="M286.7 508.89 L294.81 507.77 L302.91 504.41 L311.02 501.14 L319.13 496.65 L327.24 492.26 L335.34 487.77 L343.45 482.17 L351.56 475.53 L359.66 466.28 L367.77 461.05 L375.88 455.54 L383.98 449.09 L392.09 441.71 L400.2 433.21 L408.3 423.68" fill="none" stroke="#00CBCC" stroke-width="0.8"/>
<path d="M286.7 506.39L289.2 508.89L286.7 511.39L284.2 508.89Z" fill="#00CBCC"/>
<path d="M294.81 505.27L297.31 507.77L294.81 510.27L292.31 507.77Z" fill="#00CBCC"/>
<path d="M302.91 501.91L305.41 504.41L302.91 506.91L300.41 504.41Z" fill="#00CBCC"/>
<path d="M311.02 498.64L313.52 501.14L311.02 503.64L308.52 501.14Z" fill="#00CBCC"/>
<path d="M319.13 494.15L321.63 496.65L319.13 499.15L316.63 496.65Z" fill="#00CBCC"/>
<path d="M327.24 489.76L329.74 492.26L327.24 494.76L324.74 492.26Z" fill="#00CBCC"/>
<path d="M335.34 485.27L337.84 487.77L335.34 490.27L332.84 487.77Z" fill="#00CBCC"/>
<path d="M343.45 479.67L345.95 482.17L343.45 484.67L340.95 482.17Z" fill="#00CBCC"/>
<path d="M351.56 473.03L354.06 475.53L351.56 478.03L349.06 475.53Z" fill="#00CBCC"/>
<path d="M359.66 463.78L362.16 466.28L359.66 468.78L357.16 466.28Z" fill="#00CBCC"/>
<path d="M367.77 458.55L370.27 461.05L367.77 463.55L365.27 461.05Z" fill="#00CBCC"/>
<path d="M375.88 453.04L378.38 455.54L375.88 458.04L373.38 455.54Z" fill="#00CBCC"/>
<path d="M383.98 446.59L386.48 449.09L383.98 451.59L381.48 449.09Z" fill="#00CBCC"/>
<path d="M392.09 439.21L394.59 441.71L392.09 444.21L389.59 441.71Z" fill="#00CBCC"/>
<path d="M400.2 430.71L402.7 433.21L400.2 435.71L397.7 433.21Z" fill="#00CBCC"/>
<path d="M408.3 421.18L410.8 423.68L408.3 426.18L405.8 423.68Z" fill="#00CBCC"/>
</g>
<rect x="369.4" y="489.5" width="66.6" height="30.5" rx="0.8" fill="#fff" stroke="#bdbdbd" stroke-width="0.9"/>
<line x1="370.4" y1="494.6" x2="386" y2="494.6" stroke="#515151" stroke-width="0.8"/>
<rect x="376.5" y="492.9" width="3.4" height="3.4" fill="#515151"/>
<text x="388" y="497" font-size="6.8">LP<tspan font-size="4.8" dy="2.4">01</tspan></text>
<line x1="404.2" y1="494.6" x2="419.8" y2="494.6" stroke="#F14040" stroke-width="0.8"/>
<circle cx="412" cy="494.6" r="2.1" fill="#F14040"/>
<text x="421.8" y="497" font-size="6.8">LP<tspan font-size="4.8" dy="2.4">11</tspan></text>
<line x1="370.4" y1="504.7" x2="386" y2="504.7" stroke="#1A6FDF" stroke-width="0.8"/>
<path d="M378.2 502.18L380.6 506.38L375.8 506.38Z" fill="#1A6FDF"/>
<text x="388" y="507.1" font-size="6.8">LP<tspan font-size="4.8" dy="2.4">21</tspan></text>
<line x1="404.2" y1="504.7" x2="419.8" y2="504.7" stroke="#37AD6B" stroke-width="0.8"/>
<path d="M412 507.22L414.4 503.02L409.6 503.02Z" fill="#37AD6B"/>
<text x="421.8" y="507.1" font-size="6.8">LP<tspan font-size="4.8" dy="2.4">02</tspan></text>
<line x1="370.4" y1="514.8" x2="386" y2="514.8" stroke="#00CBCC" stroke-width="0.8"/>
<path d="M378.2 512.3L380.7 514.8L378.2 517.3L375.7 514.8Z" fill="#00CBCC"/>
<text x="388" y="517.2" font-size="6.8">Predicted</text>
<rect x="255.7" y="373.5" width="185.3" height="149.5" fill="none" stroke="#3a3a3a" stroke-width="0.9"/>
<text x="255.7" y="533.2" font-size="6.4" text-anchor="middle">-200</text>
<text x="286.58" y="533.2" font-size="6.4" text-anchor="middle">0</text>
<text x="317.47" y="533.2" font-size="6.4" text-anchor="middle">200</text>
<text x="348.35" y="533.2" font-size="6.4" text-anchor="middle">400</text>
<text x="379.23" y="533.2" font-size="6.4" text-anchor="middle">600</text>
<text x="410.12" y="533.2" font-size="6.4" text-anchor="middle">800</text>
<text x="441" y="533.2" font-size="6.4" text-anchor="middle">1000</text>
<text x="250.7" y="525.3" font-size="6.4" text-anchor="end">20</text>
<text x="250.7" y="506.61" font-size="6.4" text-anchor="end">40</text>
<text x="250.7" y="487.93" font-size="6.4" text-anchor="end">60</text>
<text x="250.7" y="469.24" font-size="6.4" text-anchor="end">80</text>
<text x="250.7" y="450.55" font-size="6.4" text-anchor="end">100</text>
<text x="250.7" y="431.86" font-size="6.4" text-anchor="end">120</text>
<text x="250.7" y="413.18" font-size="6.4" text-anchor="end">140</text>
<text x="250.7" y="394.49" font-size="6.4" text-anchor="end">160</text>
<text x="250.7" y="375.8" font-size="6.4" text-anchor="end">180</text>
<path d="M255.7 523V525.8M255.7 373.5V376.1M271.14 523V524.4M271.14 373.5V374.7M286.58 523V525.8M286.58 373.5V376.1M302.02 523V524.4M302.02 373.5V374.7M317.47 523V525.8M317.47 373.5V376.1M332.91 523V524.4M332.91 373.5V374.7M348.35 523V525.8M348.35 373.5V376.1M363.79 523V524.4M363.79 373.5V374.7M379.23 523V525.8M379.23 373.5V376.1M394.68 523V524.4M394.68 373.5V374.7M410.12 523V525.8M410.12 373.5V376.1M425.56 523V524.4M425.56 373.5V374.7M441 523V525.8M441 373.5V376.1M255.7 523H252.9M441 523H438.4M255.7 513.66H254.3M441 513.66H439.8M255.7 504.31H252.9M441 504.31H438.4M255.7 494.97H254.3M441 494.97H439.8M255.7 485.62H252.9M441 485.62H438.4M255.7 476.28H254.3M441 476.28H439.8M255.7 466.94H252.9M441 466.94H438.4M255.7 457.59H254.3M441 457.59H439.8M255.7 448.25H252.9M441 448.25H438.4M255.7 438.91H254.3M441 438.91H439.8M255.7 429.56H252.9M441 429.56H438.4M255.7 420.22H254.3M441 420.22H439.8M255.7 410.88H252.9M441 410.88H438.4M255.7 401.53H254.3M441 401.53H439.8M255.7 392.19H252.9M441 392.19H438.4M255.7 382.84H254.3M441 382.84H439.8M255.7 373.5H252.9M441 373.5H438.4" stroke="#3a3a3a" stroke-width="0.9" fill="none"/>
<text x="263.9" y="385.3" font-size="7.8">E4: LP<tspan font-size="5.2" dy="1.6">02</tspan><tspan dy="-1.6"> design</tspan></text>
<text x="348.35" y="545.5" font-size="7.75" text-anchor="middle">Propagation distance (μm)</text>
<text transform="translate(236.5 448.25) rotate(-90)" font-size="7.9" text-anchor="middle">Aeff (μm<tspan font-size="5.5" dy="-2">2</tspan><tspan dy="2">)</tspan></text>
<text x="230.2" y="545.6" font-size="9.6">f<tspan dx="1.1">)</tspan></text>
</svg></body></html>
